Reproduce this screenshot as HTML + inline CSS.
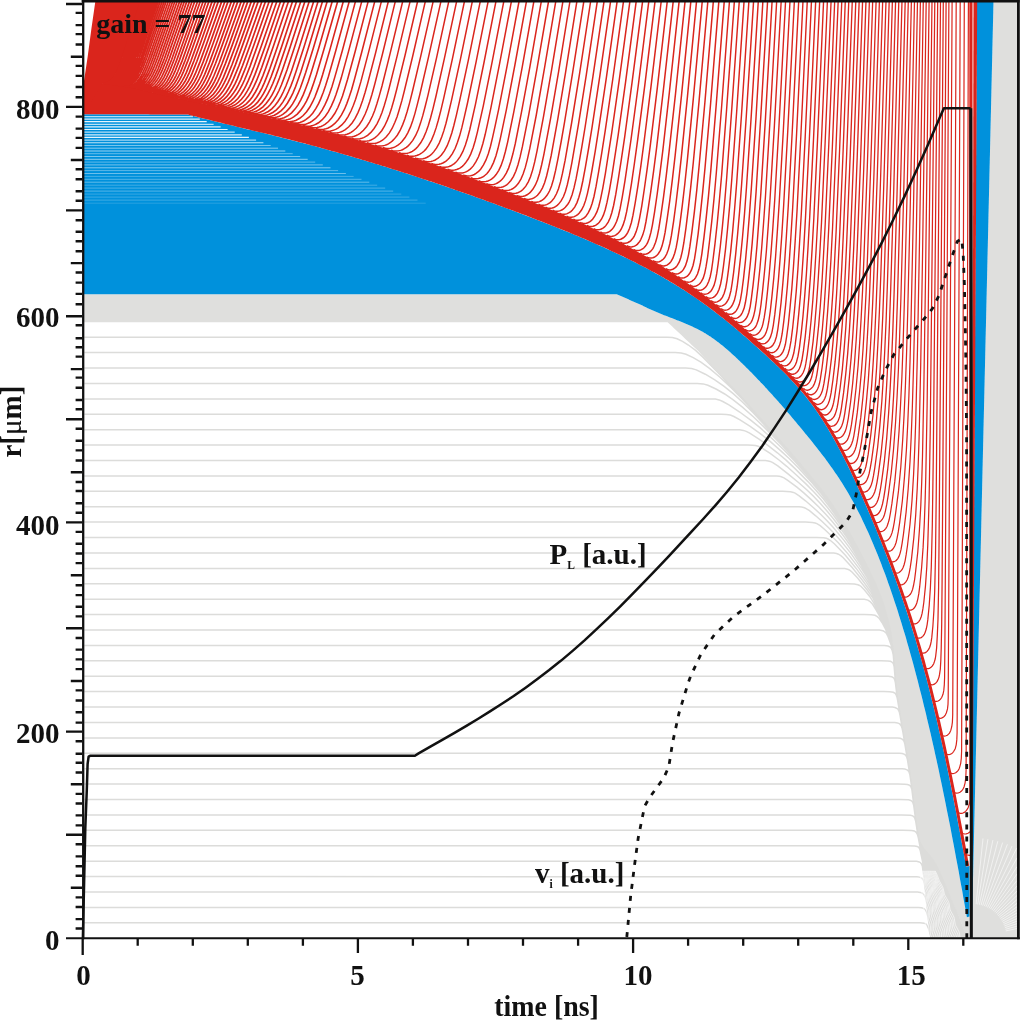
<!DOCTYPE html>
<html><head><meta charset="utf-8"><title>plot</title>
<style>html,body{margin:0;padding:0;background:#fff}svg{display:block}</style></head>
<body>
<svg width="1020" height="1022" viewBox="0 0 1020 1022" style="display:block">
<rect width="1020" height="1022" fill="#fff"/>
<polygon fill="#dfdfdd" points="84,294.2 616.7,294.2 616.7,294.2 617.9,294.7 619,295.2 620.2,295.7 621.4,296.3 622.6,296.8 623.7,297.3 624.9,297.8 626.1,298.3 627.2,298.8 628.4,299.3 629.6,299.9 630.8,300.4 631.9,300.9 633.1,301.4 634.3,301.9 635.4,302.4 636.6,303 637.8,303.5 639,304 640.1,304.6 641.3,305.1 642.5,305.6 643.6,306.2 644.8,306.7 646,307.3 647.1,307.9 648.3,308.5 649.5,309 650.7,309.5 651.8,310.1 653,310.6 654.2,311.1 655.3,311.6 656.5,312.1 657.7,312.6 658.9,313 660,313.5 661.2,314 662.4,314.5 663.5,314.9 664.7,315.4 665.9,315.8 667.1,316.3 668.2,316.7 669.4,317.2 670.6,317.7 671.7,318.1 672.9,318.6 674.1,319 675.3,319.5 676.4,319.9 677.6,320.4 678.8,320.8 679.9,321.3 681.1,321.8 682.3,322.2 683.5,322.7 684.6,323.2 685.8,323.7 687,324.2 688.1,324.7 689.3,325.2 690.5,325.7 691.7,326.3 692.8,326.8 694,327.4 695.2,327.9 696.3,328.5 697.5,329.1 698.7,329.7 699.8,330.3 701,330.9 702.2,331.6 703.4,332.3 704.5,332.9 705.7,333.6 706.9,334.4 708,335.1 709.2,335.9 710.4,336.6 711.6,337.4 712.7,338.2 713.9,339.1 715.1,339.9 716.2,340.8 717.4,341.7 718.6,342.5 719.8,343.5 720.9,344.4 722.1,345.3 723.3,346.3 724.4,347.3 725.6,348.3 726.8,349.3 728,350.3 729.1,351.3 730.3,352.3 731.5,353.4 732.6,354.5 733.8,355.5 735,356.6 736.2,357.7 737.3,358.8 738.5,360 739.7,361.1 740.8,362.2 742,363.3 743.2,364.5 744.3,365.6 745.5,366.8 746.7,367.9 747.9,369.1 749,370.3 750.2,371.4 751.4,372.6 752.5,373.8 753.7,375 754.9,376.2 756.1,377.4 757.2,378.7 758.4,379.9 759.6,381.1 760.7,382.4 761.9,383.6 763.1,384.8 764.3,386.1 765.4,387.4 766.6,388.6 767.8,389.9 768.9,391.2 770.1,392.5 771.3,393.8 772.5,395.1 773.6,396.4 774.8,397.7 776,399 777.1,400.3 778.3,401.6 779.5,402.9 780.7,404.3 781.8,405.6 783,407 784.2,408.3 785.3,409.7 786.5,411 787.7,412.4 788.9,413.8 790,415.1 791.2,416.5 792.4,417.9 793.5,419.3 794.7,420.7 795.9,422.1 797,423.5 798.2,424.9 799.4,426.3 800.6,427.7 801.7,429.1 802.9,430.5 804.1,431.9 805.2,433.4 806.4,434.8 807.6,436.2 808.8,437.7 809.9,439.1 811.1,440.6 812.3,442 813.4,443.5 814.6,445 815.8,446.4 817,447.9 818.1,449.4 819.3,450.9 820.5,452.5 821.6,454 822.8,455.5 824,457.1 825.2,458.6 826.3,460.2 827.5,461.8 828.7,463.4 829.8,465 831,466.7 832.2,468.3 833.4,470 834.5,471.7 835.7,473.4 836.9,475.1 838,476.8 839.2,478.6 840.4,480.4 841.6,482.2 842.7,484.1 843.9,486 845.1,487.9 846.2,489.8 847.4,491.8 848.6,493.8 849.7,495.8 850.9,497.9 852.1,500 853.3,502.1 854.4,504.3 855.6,506.5 856.8,508.7 857.9,511 859.1,513.3 860.3,515.6 861.5,518 862.6,520.4 863.8,522.9 865,525.4 866.1,527.9 867.3,530.5 868.5,533.1 869.7,535.8 870.8,538.4 872,541.2 873.2,543.9 874.3,546.7 875.5,549.6 876.7,552.4 877.9,555.3 879,558.3 880.2,561.3 881.4,564.3 882.5,567.4 883.7,570.5 884.9,573.6 886.1,576.8 887.2,580.1 888.4,583.4 889.6,586.7 890.7,590 891.9,593.5 893.1,596.9 894.2,600.4 895.4,604 896.6,607.6 897.8,611.2 898.9,614.9 900.1,618.7 901.3,622.5 902.4,626.3 903.6,630.2 904.8,634.1 906,638.1 907.1,642.2 908.3,646.3 909.5,650.4 910.6,654.6 911.8,658.8 913,663.1 914.2,667.5 915.3,671.8 916.5,676.3 917.7,680.8 918.8,685.3 920,689.9 921.2,694.5 922.4,699.2 923.5,703.9 924.7,708.7 925.9,713.6 927,718.5 928.2,723.4 929.4,728.4 930.6,733.5 931.7,738.6 932.9,743.8 934.1,749 935.2,754.3 936.4,759.6 937.6,765 938.8,770.5 939.9,776 941.1,781.5 942.3,787.2 943.4,792.8 944.6,798.6 945.8,804.4 946.9,810.2 948.1,816.1 949.3,822 950.5,828.1 951.6,834.1 952.8,840.2 954,846.4 955.1,852.6 956.3,858.9 957.5,865.2 958.7,871.5 959.8,877.9 961,884.4 962.2,890.8 963.3,897.4 964.5,903.9 965.7,910.5 966.9,917.2 969.5,916.5 969.5,938.2 967.1,938.2 966.3,936.1 965.5,934.1 964.7,932 963.9,930 963.1,927.9 962.3,925.8 961.6,923.8 960.8,921.7 960,919.7 959.2,917.6 958.3,915.5 957.3,913.5 956.4,911.4 955.5,909.4 954.6,907.3 953.6,905.2 952.7,903.2 951.8,901.1 950.9,899.1 950,897 949.1,894.9 948.3,892.9 947.4,890.8 946.6,888.8 945.8,886.7 944.9,884.6 944.1,882.6 943.2,880.5 942.4,878.5 941.5,876.4 940.6,874.3 939.7,872.3 938.7,870.2 937.7,868.2 936.7,866.1 935.6,864 934.5,862 933.1,859.9 931.5,857.9 929.7,855.8 927.9,853.7 926.1,851.7 924.3,849.6 922.6,847.6 921.2,845.5 920,843.4 919.1,841.4 918.6,839.3 918.3,837.3 917.9,835.2 917.5,833.1 917.2,831.1 916.9,829 916.6,826.9 916.3,824.9 916,822.8 915.7,820.8 915.5,818.7 915.2,816.6 915,814.6 914.7,812.5 914.5,810.5 914.2,808.4 914,806.3 913.8,804.3 913.5,802.2 913.3,800.2 913.1,798.1 912.8,796 912.6,794 912.3,791.9 912.1,789.9 911.8,787.8 911.6,785.7 911.3,783.7 911,781.6 910.7,779.6 910.4,777.5 910.1,775.4 909.8,773.4 909.5,771.3 909.1,769.3 908.8,767.2 908.5,765.1 908.2,763.1 907.8,761 907.5,759 907.2,756.9 906.8,754.8 906.5,752.8 906.1,750.7 905.8,748.7 905.4,746.6 905.1,744.5 904.7,742.5 904.4,740.4 904,738.4 903.7,736.3 903.3,734.2 902.9,732.2 902.6,730.1 902.2,728.1 901.9,726 901.5,723.9 901.2,721.9 900.8,719.8 900.5,717.8 900.1,715.7 899.8,713.6 899.4,711.6 899.1,709.5 898.8,707.5 898.4,705.4 898.1,703.3 897.8,701.3 897.4,699.2 897.1,697.2 896.8,695.1 896.6,693 896.3,691 896.1,688.9 895.9,686.9 895.7,684.8 895.5,682.7 895.3,680.7 895.2,678.6 895,676.6 894.8,674.5 894.7,672.4 894.6,670.4 894.4,668.3 894.3,666.3 894.1,664.2 894,662.1 893.9,660.1 893.7,658 893.5,656 893.4,653.9 893.2,651.8 893,649.8 892.8,647.7 892.6,645.7 892.4,643.6 892.1,641.5 891.8,639.5 891.5,637.4 891.2,635.4 890.9,633.3 890.5,631.2 890.1,629.2 889.7,627.1 889.3,625 888.8,623 888.3,620.9 887.7,618.9 887.2,616.8 886.6,614.7 886,612.7 885.4,610.6 884.8,608.6 884.2,606.5 883.6,604.4 882.9,602.4 882.2,600.3 881.5,598.3 880.7,596.2 879.9,594.1 879.1,592.1 878.2,590 877.4,588 876.5,585.9 875.5,583.8 874.6,581.8 873.7,579.7 872.7,577.7 871.7,575.6 870.7,573.5 869.7,571.5 868.7,569.4 867.6,567.4 866.6,565.3 865.5,563.2 864.5,561.2 863.4,559.1 862.3,557.1 861.3,555 860.2,552.9 859.1,550.9 858.1,548.8 857,546.8 855.9,544.7 854.8,542.6 853.7,540.6 852.6,538.5 851.5,536.5 850.4,534.4 849.2,532.3 848.1,530.3 846.9,528.2 845.7,526.2 844.5,524.1 843.3,522 842,520 840.8,517.9 839.5,515.9 838.2,513.8 836.9,511.7 835.6,509.7 834.3,507.6 832.9,505.6 831.5,503.5 830.1,501.4 828.7,499.4 827.2,497.3 825.7,495.3 824.2,493.2 822.6,491.1 821,489.1 819.4,487 817.7,485 816,482.9 814.3,480.8 812.6,478.8 810.9,476.7 809.2,474.7 807.5,472.6 805.8,470.5 804.1,468.5 802.4,466.4 800.6,464.4 798.9,462.3 797.1,460.2 795.3,458.2 793.5,456.1 791.7,454.1 789.9,452 788.1,449.9 786.3,447.9 784.4,445.8 782.6,443.8 780.8,441.7 778.9,439.6 777.1,437.6 775.3,435.5 773.5,433.5 771.7,431.4 769.9,429.3 768.2,427.3 766.4,425.2 764.6,423.1 762.8,421.1 761,419 759.2,417 757.4,414.9 755.6,412.8 753.8,410.8 752,408.7 750.1,406.7 748.3,404.6 746.4,402.5 744.6,400.5 742.7,398.4 740.8,396.4 738.9,394.3 737,392.2 735.1,390.2 733.2,388.1 731.3,386.1 729.3,384 727.4,381.9 725.4,379.9 723.4,377.8 721.4,375.8 719.4,373.7 717.4,371.6 715.5,369.6 713.5,367.5 711.6,365.5 709.7,363.4 707.7,361.3 705.8,359.3 703.9,357.2 702,355.2 700,353.1 698.3,351 696.1,349 693.9,346.9 691.7,344.9 689.5,342.8 687.3,340.7 685.1,338.7 682.9,336.6 680.8,334.6 678.6,332.5 676.4,330.4 674.2,328.4 672,326.3 669.8,324.3 667.6,322.2 84,322.2"/>
<path d="M84.3 922.8 L919.8 922.8 L924.3 923.3 L925.8 923.9 L926.8 924.9 L928.2 927.8 L930.3 934.8 L931 938.2M84.3 907.4 L918.5 907.4 L921.3 907.7 L923.7 908.4 L925.4 910 L926.6 912.2 L928.2 917.8 L929.3 926.6 L931.3 934.7 L931.8 938.2M84.3 892 L917.5 892.1 L920.3 892.4 L922.6 893.3 L924.3 895.1 L925.5 897.5 L926.4 901.2 L927.4 909.1 L929 916.8 L930 924.6 L932.2 933.9 L932.5 938.2M84.3 876.6 L916.9 876.7 L919.6 877.1 L921.8 878.2 L922.9 879.4 L924 881.8 L924.6 884.6 L925.4 891.5 L927 899.2 L928 907.1 L929.9 915.8 L930.9 923.6 L932.9 932.2 L933.3 938.2M84.3 861.2 L907.7 861.2 L916.6 861.3 L919.2 861.9 L920.5 862.7 L921.5 863.9 L922.4 866.3 L923.4 873.9 L925.1 881.7 L926 889.5 L927.8 898.2 L928.8 906.1 L930.5 913.8 L931.7 922.6 L933.7 931.2 L934.2 938.2M84.3 845.7 L905.8 845.7 L914.7 845.9 L917.2 846.5 L918.5 847.2 L919.5 848.4 L920.3 850.8 L922.9 863.2 L923.9 871 L925.7 879.7 L926.6 887.6 L928.4 896.3 L929.4 904.2 L931.3 912.8 L932.6 921.6 L934.4 929.3 L935.3 938.2M84.3 830.3 L902.9 830.3 L911.7 830.5 L914.3 831 L916.2 832.3 L917.4 834.4 L918.4 838 L921.3 853.7 L923.5 862.3 L924.6 870.2 L926.3 877.9 L927.4 886.7 L929 894.5 L930 902.3 L932 911 L933.2 919.8 L935.1 927.4 L936.1 935.5 L936.7 938.2M84.3 814.9 L901.7 814.9 L910.4 815.2 L912.8 815.9 L914 816.9 L914.8 818.2 L915.6 820.7 L918.5 838.3 L921.2 851 L923.8 860.6 L925 868.4 L926.9 876.1 L928 884.9 L929.8 893.6 L930.7 901.5 L932.7 910.1 L933.9 917.9 L935.8 925.6 L937.1 934.9 L938.1 938.2M84.3 799.5 L899.7 799.5 L908.5 799.8 L910.9 800.5 L912.1 801.4 L912.9 802.7 L913.7 805.2 L916.5 825.8 L918.2 836.7 L921.1 849.4 L924 858.8 L925.6 867.6 L927.6 875.2 L928.7 884.1 L930.4 891.8 L931.5 900.6 L933.3 908.3 L934.7 917.1 L936.6 924.7 L937.9 933.3 L939.5 938.2M84.3 784.1 L897.7 784.1 L904.6 784.2 L907.4 784.5 L908.9 785 L910.2 785.9 L911 787.1 L911.9 789.6 L915.9 822.2 L918.3 837 L920.9 847.7 L924.4 858 L926 865.8 L928 873.4 L929.3 882.2 L931.1 890.9 L932.2 899.7 L933.8 906.4 L935.2 915.2 L937.2 922.8 L938.6 931.6 L939.5 934.9 L940.7 938.2M84.3 768.7 L896.1 768.7 L902.1 768.8 L904.8 769 L907.1 769.8 L908.3 770.8 L909.1 772.2 L909.9 774.8 L911.8 787.6 L916 822.4 L918.1 836.2 L920.2 844.9 L924.6 857.1 L926.4 864.8 L928.4 871.5 L929.9 881.2 L931.6 888.9 L932.7 897.8 L934.5 905.4 L935.8 913.3 L937.8 920.9 L939.4 930.6 L941.8 938.2M84.3 753.3 L893.5 753.3 L899.5 753.3 L902.3 753.6 L904.6 754.4 L905.8 755.4 L906.6 756.8 L907.4 759.3 L911 781.9 L915.7 820.7 L918.2 836.5 L920.1 844.2 L924.7 856.3 L928.9 870.5 L930.3 879.3 L932.3 888 L933.4 896.8 L935.2 904.5 L936.3 911.3 L938.6 919.9 L940.2 929.6 L942.7 938.2M84.3 737.9 L890.7 737.9 L897.6 738 L900.3 738.3 L902.5 739.3 L903.5 740.5 L904.3 742 L905 744.6 L907.9 761.4 L910.8 780.1 L915.8 820.9 L918.2 836.7 L920.2 844.4 L924.7 855.5 L929.4 869.6 L930.9 878.3 L932.8 886 L933.9 894.8 L935.6 902.6 L936.7 909.4 L939.1 917.9 L940.5 926.7 L942.8 934.8 L943.4 938.2M84.3 722.5 L887.9 722.5 L894.8 722.6 L897.5 722.9 L899.7 723.9 L901.2 725.7 L902.1 728.2 L902.9 732 L910.4 777.4 L915.9 822.1 L918.5 837.9 L920.4 844.6 L928.3 863.9 L929.9 868.6 L931.2 876.4 L933.2 884 L934.3 892.9 L936.1 900.6 L937.4 908.4 L939.8 916.9 L941.3 925.7 L943.5 934 L944.1 938.2M84.3 707.1 L885.4 707.1 L892.3 707.1 L895 707.5 L897.2 708.5 L898.2 709.6 L899.3 711.9 L900.1 715.6 L906.5 753.1 L910 774.8 L912 789.6 L915.8 821.4 L918.3 837.2 L919.3 841.1 L920.6 844.9 L928.7 863.1 L930 866.8 L931.5 874.5 L933.8 883.1 L935 891.9 L936.7 899.6 L937.8 906.5 L940.3 915 L941.9 923.7 L944.1 932.2 L944.8 938.2M84.3 691.6 L883.8 691.6 L889.7 691.7 L893.3 692.3 L895.2 693.4 L896.1 694.7 L897 697.2 L897.6 700 L909.9 774 L912 788.9 L915.9 821.7 L918.4 837.5 L919.4 841.3 L920.7 845.1 L928.9 862.1 L930.3 865.8 L931.9 873.6 L934.3 882.1 L935.4 890 L937.1 897.7 L938.4 905.5 L941 914 L942.6 922.7 L944.9 931.2 L945.5 938.2M84.3 676.2 L882.4 676.2 L888.3 676.3 L891.8 676.8 L893.2 677.5 L894.2 678.6 L894.8 680 L895.4 682.7 L898 702.4 L906.9 755.7 L910.2 776.4 L912.1 790.3 L915.8 821.1 L918.3 836.9 L919.5 841.7 L920.9 845.4 L923.5 850.8 L928.7 860.5 L930.5 865 L932.1 871.8 L934.6 880.3 L935.8 888.1 L937.5 895.8 L939 904.6 L941.6 913 L943 920.8 L945.4 929.3 L946.5 938.2M84.3 660.8 L880.9 660.8 L887.8 660.9 L890.4 661.3 L891.9 662 L892.9 663 L893.6 664.3 L894.2 666.9 L895.8 685.8 L897.1 696.7 L910 774.7 L912 789.6 L916 822.4 L918.3 837.2 L919.6 842 L921.5 846.6 L928.3 858.8 L930 862.4 L932.5 870.9 L934.6 877.5 L936.3 887.2 L938.2 894.9 L939.4 902.7 L942 911.2 L943.7 919.9 L946 927.5 L947.7 938.2M84.3 645.4 L878.5 645.4 L884.4 645.5 L888 646 L890.2 647.1 L891.2 648.3 L892.3 650.8 L893.2 654.5 L893.9 660.5 L895.6 683.4 L897 696.3 L909.9 774.3 L912 789.1 L915.9 821.9 L918.2 836.7 L919.5 841.5 L921.4 846.1 L923.7 850.5 L928.4 858.2 L930.2 861.7 L934.8 875.8 L935.5 878.7 L936.6 885.5 L938.6 893.1 L940 901.9 L942.3 909.4 L944.2 918.1 L946.5 925.7 L947.9 934.1 L949.1 938.2M84.3 630 L872.5 630 L879.4 630.1 L883 630.8 L884.5 631.6 L885.8 632.7 L886.8 634.2 L888.1 636.7 L891.2 645.2 L893 652.9 L893.8 659.9 L895.6 683.8 L897 695.7 L910 774.7 L912 789.5 L916 822.3 L918.3 837.1 L919.6 841.9 L921.6 846.5 L924.1 850.8 L928.4 857.5 L930.2 861 L934.9 874.1 L935.7 876.9 L937.1 884.7 L939.1 892.3 L940.5 901.1 L942.9 908.6 L944.6 916.3 L947.2 924.8 L948.8 933.3 L950.4 938.2M84.3 614.6 L864.4 614.6 L871.3 614.7 L875 615.3 L877.3 616.6 L879.3 618.5 L882 622.5 L884.9 627.8 L887.3 633.2 L889.5 638.8 L891.2 644.6 L892.6 650.4 L893.6 657.3 L895.5 682.2 L897 696.2 L909.7 773.1 L912 789 L916 822.7 L917.5 832.6 L918.7 838.5 L920.1 843.2 L921.8 846.8 L928.3 856.9 L930.2 860.4 L935.2 873.3 L937.3 883 L939.4 890.6 L940.8 899.3 L943.2 906.8 L945.2 915.4 L947.7 923 L949.5 932.5 L951.7 938.2M84.3 599.2 L857.4 599.2 L864.3 599.3 L867.9 600.1 L870.1 601.5 L872.6 604.3 L876.2 610.2 L882.6 621.5 L885.3 626.9 L887.7 632.4 L889.6 638.1 L891.3 643.8 L892.5 649.7 L893.4 655.6 L895.5 682.5 L897.1 696.5 L909.9 774.4 L912 789.3 L915.9 822 L918.3 836.8 L919.6 841.6 L921.1 845.3 L923.1 848.7 L929.6 858.7 L931.7 863.2 L935.1 871.5 L936 874.4 L937.5 881.1 L939.7 888.7 L941.4 898.4 L943.8 905.9 L945.6 913.6 L948.1 921.1 L950.3 931.6 L952.8 938.2M84.3 583.8 L847.3 583.8 L854.3 583.9 L857.9 584.7 L859.6 585.5 L861.1 586.5 L864.5 590 L869.5 596.2 L873.8 602.9 L879.6 613.4 L884.9 624.2 L887.9 631.6 L890.3 639.2 L892.1 647 L893.3 654.9 L895.5 682.8 L897.1 696.7 L910 774.6 L912 789.5 L916 822.3 L918.3 837.1 L919.7 841.8 L921.2 845.5 L923.3 848.9 L929.9 858.8 L933 865.1 L935.3 870.6 L937.8 880.2 L940.1 887.8 L941.8 897.5 L944.2 905 L946.1 912.7 L948.7 920.1 L950.7 929.8 L953.6 938.2M84.3 568.4 L837.9 568.4 L844.8 568.6 L848.4 569.5 L850 570.4 L852.2 572.2 L857.6 578.1 L867 589.7 L872.8 597.9 L877.6 606.7 L884 620.2 L887.1 627.6 L889.5 635.2 L891.7 644 L893.1 652.9 L895.6 683.8 L897.2 697.7 L909.8 773.7 L911.9 788.6 L916 822.4 L918.4 837.2 L919.7 842 L921.3 845.6 L923.4 849 L930.2 858.9 L933 864.2 L935.3 869.7 L940.2 885.8 L942.3 896.5 L944.4 903.1 L946.3 910.8 L949.3 919.1 L951.1 927.8 L953.5 934.8 L954.3 938.2M84.3 553 L826.9 553 L833.8 553.1 L836.6 553.6 L838.4 554.2 L840.8 555.6 L843 557.5 L852.4 567.8 L862.4 580.3 L871.2 592.5 L875.3 599.3 L879.3 607.4 L885.2 621.2 L888.6 630.6 L890.8 639.3 L892.7 649.1 L893.7 658.1 L895.6 684 L897 695.9 L909.9 774 L911.9 788.8 L916 822.6 L918.4 837.4 L919.8 842.2 L921.5 845.7 L931 859.8 L933.4 864.2 L935.4 868.7 L940.2 883.9 L942.4 894.6 L944.5 901.2 L946.5 908.9 L949.8 918.1 L951.5 925.9 L954.1 934 L954.9 938.2M84.3 537.5 L816.7 537.5 L823.6 537.8 L826.4 538.3 L828.1 539 L830.5 540.5 L834.3 543.8 L839.9 549.4 L845.4 555.3 L856.2 568.4 L866.2 582.1 L872.8 592.2 L877.5 600.9 L882.7 612.9 L887.6 626 L890.5 636.6 L892.5 647.4 L893.5 656.4 L895.4 681.3 L896.9 695.2 L909.9 774.2 L912 789.1 L915.9 821.8 L918.2 836.7 L919.5 841.4 L921.1 845.1 L923.2 848.4 L931.3 859.9 L933.7 864.2 L935.7 868.8 L940.4 883 L942.4 891.7 L944.9 900.2 L946.6 907 L950.3 917.2 L952 924.9 L954.7 933.1 L955.5 938.2M84.3 522.1 L805.5 522.1 L812.4 522.4 L815.2 523 L816.9 523.6 L820.2 525.7 L824.7 529.5 L831.3 535.7 L838.3 542.8 L848.2 554.1 L859 568.4 L868.5 582.6 L872.7 589.4 L876 595.5 L881 606.5 L886.6 621.5 L889.9 633 L892.3 645.7 L893.5 655.7 L895.4 681.6 L896.9 695.5 L909.9 774.5 L912 789.3 L915.9 822.1 L918.3 836.9 L919.6 841.7 L921.3 845.3 L923.4 848.6 L929.3 856.7 L932.1 860.8 L934.1 864.3 L936 868.9 L940.6 882 L942.7 890.7 L945.1 898.3 L947 906 L950.5 915.2 L952.3 922.9 L955.3 932.2 L956.1 938.2M84.3 506.7 L793.9 506.7 L798.8 506.8 L801.7 507.1 L804.5 507.8 L806.2 508.6 L809.5 510.7 L815.7 515.8 L822.4 521.7 L828.9 528 L834.5 533.7 L840.5 540.4 L850.5 552.9 L856.3 561.1 L862.5 570.2 L867.8 578.7 L872.3 586.4 L875.7 592.6 L878.7 598.9 L881.4 605.4 L884.1 612.9 L887 621.4 L888.9 628.2 L890.5 635 L891.9 642.9 L893.3 653.8 L895.4 681.7 L896.9 695.6 L910 774.6 L912 789.5 L916 822.3 L918.3 837.1 L919.7 841.9 L921.4 845.4 L923.5 848.8 L931.9 860 L934.3 864.3 L936.3 868.9 L940.7 881.1 L947.3 905.1 L950.9 914.3 L952.9 921.9 L955.7 930.3 L957 938.2M84.3 491.3 L782.8 491.3 L790.6 491.7 L793.4 492.4 L795.1 493.1 L799.2 495.8 L805.5 500.8 L813.8 508 L821.1 514.8 L826.8 520.5 L832.9 527.1 L843.8 540.1 L849.2 547.4 L854.9 555.6 L861.4 565.7 L867.1 575.1 L872.1 583.8 L876.2 591.8 L879.1 598.1 L882.1 605.5 L885.7 616 L888.3 624.6 L890.2 632.4 L891.8 641.2 L893.3 653.1 L895.5 682.1 L897 696 L909.9 774 L911.9 788.8 L916 822.6 L918.4 837.4 L919.8 842.1 L922.1 846.5 L924.4 849.8 L931.1 858.5 L933.7 862.7 L935.8 867.2 L938.8 874.7 L941.1 881.3 L945.1 894.6 L947.4 903.3 L951 912.5 L953.1 920.1 L955.7 927.6 L958 938.2M84.3 475.9 L771.6 475.9 L776.6 476 L779.5 476.3 L781.3 476.8 L784 477.9 L788.1 480.6 L796.9 487.2 L803.8 492.9 L811.2 499.6 L819.1 507.3 L826 514.6 L832 521.3 L838.3 529 L844.3 537 L850.7 546 L856.6 555.3 L863.4 566.4 L869.3 576.8 L874.5 586.5 L878.3 594.7 L881.3 602.1 L884.6 611.5 L888.1 623 L890 630.8 L891.6 639.6 L893.2 652.5 L895.4 681.5 L896.9 695.4 L909.9 774.4 L912 789.2 L915.9 822 L917.4 831.9 L918.5 837.8 L919.6 841.6 L921.3 845.1 L924 849.3 L930.2 857.1 L933 861.2 L935.3 865.6 L938.9 873.9 L940.6 878.6 L945.1 892.9 L947.4 901.5 L951.1 910.7 L953.6 919.3 L956 925.8 L958.2 934.9 L959.2 938.2M84.3 460.5 L760.5 460.5 L765.4 460.6 L768.3 461 L770.2 461.4 L772.8 462.6 L777.8 465.8 L788 473.8 L798.8 482.7 L807 490 L813.5 496.3 L820.4 503.5 L827 511 L833.4 518.7 L840 527.5 L846.3 536.5 L852.3 545.7 L858.6 556 L866 569 L871.7 579.6 L876.5 589.4 L880.5 598.6 L883.8 608 L887.6 620.5 L889.8 629.2 L891.4 638.1 L893.2 652 L895.4 681.9 L897 695.8 L909.8 773.8 L911.9 788.6 L916 822.4 L917.4 832.3 L918.6 838.1 L919.8 841.9 L921.5 845.5 L923.7 848.8 L930.5 857.4 L932.8 860.6 L935.2 865 L938.5 872.3 L940.7 877.9 L945 891.1 L947.8 900.7 L951.1 909 L953.8 917.5 L956.2 924 L958.9 934.2 L960.5 938.2M84.3 445.1 L747.6 445.1 L752.6 445.2 L755.5 445.5 L758.3 446.3 L761.8 447.9 L770.2 453.4 L779 460 L786.7 466.3 L796.4 475 L805.9 483.9 L813.7 491.7 L820.4 499.1 L828.1 508.3 L834.8 517 L841.2 526 L847.8 536 L854.1 546.2 L862.5 561 L869.6 574.2 L875 585 L879.4 595 L883.2 605.3 L887 617.8 L889.5 627.5 L891.4 637.3 L893.1 651.2 L895.4 681.1 L896.9 695 L909.9 774 L912 788.9 L916 822.7 L918.4 837.4 L919.9 842.2 L921.6 845.7 L923.9 849 L932.5 860 L935 864.3 L938.4 871.5 L940.6 877.1 L944.9 889.4 L948.1 899.9 L951.4 908.2 L953.9 915.7 L956.7 923.2 L959.6 933.5 L961.6 938.2M84.3 429.7 L734.6 429.7 L739.6 429.8 L743.4 430.4 L746.2 431.4 L749.7 433.2 L759 439.1 L767.9 445.4 L777.4 452.8 L785.8 459.9 L795.3 468.9 L807.9 481.6 L816.1 490.4 L823.3 498.8 L830.6 508.3 L837.6 518 L844.2 528.1 L850.5 538.3 L857.9 551.3 L867.4 568.9 L873.3 580.5 L878.3 591.5 L882.2 601.7 L885.9 613.2 L889 624.8 L891.1 635.5 L893 650.4 L895.4 681.4 L896.9 695.3 L909.9 774.2 L912 789.1 L916 822.9 L918.5 837.7 L920 842.4 L921.8 845.9 L924 849.2 L930.3 856.9 L932.7 860.1 L935.2 864.4 L938.3 870.7 L940.5 876.3 L944.6 887.5 L948.3 898.9 L956.8 921.3 L959.8 931.7 L962.6 938.2M84.3 414.3 L721.5 414.3 L726.5 414.5 L730.3 415.1 L733.9 416.5 L740 419.9 L750.2 426.3 L759.9 433.3 L770.1 441.4 L780.6 450.6 L789.4 458.8 L798.5 468.1 L812 482.8 L821.2 493.5 L827.9 502.1 L834.9 511.9 L841.5 521.9 L848.3 533 L855.7 546.1 L866.1 565.5 L872.4 578 L877.4 588.9 L881.5 599.1 L885.2 610.5 L888.9 624 L891 634.8 L893 649.7 L895.4 681.6 L896.9 695.5 L909.8 773.5 L912 789.3 L916.1 823.1 L917.4 832 L918.5 837.9 L920 842.6 L921.9 846.1 L924.2 849.3 L930.5 857 L932.9 860.3 L935.4 864.5 L938.5 870.8 L944.3 885.7 L948.5 898 L956.8 919.4 L960 929.8 L963.3 938.2M84.3 398.9 L709.5 398.9 L715.4 399.1 L719.2 399.9 L722.8 401.5 L728.9 404.9 L739.7 412 L751 420.3 L760.3 427.9 L771.5 438 L783.7 449.8 L794.8 461.3 L808.8 476.9 L819.8 489.9 L826.6 498.6 L833 507.5 L840.1 518.4 L846.9 529.5 L854.2 542.6 L864.1 561.1 L871.3 575.4 L876.4 586.3 L880.9 597.4 L884.5 607.8 L888.5 622.2 L890.9 634 L893 649.9 L895.4 681.8 L897 695.7 L909.8 773.7 L912 789.5 L916 822.3 L917.4 832.2 L918.6 838 L920.1 842.7 L922 846.2 L924.3 849.4 L930 856.4 L933 860.4 L935.6 864.6 L938.3 870 L943.2 882 L948.6 897.1 L957.1 918.4 L960.4 928.8 L963.9 938.2M84.3 383.4 L697.3 383.5 L703.2 383.9 L707.9 385.2 L716 389 L724.7 394 L732.9 399.7 L742.4 407.1 L753.6 417 L764.4 427.4 L781.2 444.6 L794.8 459.3 L809.8 476.6 L821.3 490.5 L827.9 499.3 L834.2 508.3 L840.6 518.4 L847.3 529.6 L855.1 543.6 L864.8 562.2 L871.1 574.7 L876.2 585.6 L880.8 596.7 L884.6 608 L888.6 622.5 L891 634.2 L893 650.1 L895.5 682 L897 695.9 L909.9 773.9 L911.9 788.7 L916 822.5 L917.5 832.4 L918.6 838.2 L919.8 842 L921.6 845.5 L923.8 848.8 L930.2 856.5 L933.2 860.5 L935.7 864.8 L938.4 870.1 L943.1 881.2 L949 897.1 L957.3 917.5 L964.5 938.2M84.3 368 L685.7 368.1 L691.6 368.5 L696.3 369.9 L705.3 374.2 L714.8 379.8 L723.8 386.1 L733.2 393.6 L742.1 401.7 L753.4 413 L765 425.4 L794 457.2 L805.1 470.1 L821 489.4 L827 497.4 L833.3 506.5 L839.8 516.6 L846.4 527.7 L853.8 540.8 L862.1 556.8 L869.8 571.9 L875.4 583.7 L880.1 594.8 L884 606.1 L888.3 621.5 L890.8 633.3 L892.9 649.1 L895.5 682 L897 696 L909.9 774 L911.9 788.8 L916 822.6 L917.5 832.5 L918.6 838.4 L919.9 842.1 L921.6 845.7 L923.9 848.9 L930.3 856.6 L933.3 860.6 L935.9 864.9 L938.5 870.2 L942.5 879.4 L949.8 898.1 L957.8 917.5 L965.1 938.2M84.3 352.6 L675.3 352.6 L681.2 353 L686 354.2 L693.2 357.6 L700.9 362.2 L709.8 368.7 L720.5 377.7 L731.4 387.9 L742.6 399.4 L758.2 416.3 L794.6 457.5 L805 469.7 L820.2 488.2 L826.9 497 L832.6 505.2 L839.1 515.3 L845.8 526.4 L851.7 536.9 L858.3 549.2 L868.3 568.8 L874.4 581.4 L879.9 594.3 L883.9 605.6 L888.2 621 L890.9 633.7 L893 649.6 L895.4 681.5 L896.9 695.4 L909.8 773.3 L912 789.2 L916 822.9 L917.5 832.8 L918.7 838.7 L920 842.4 L921.8 845.9 L924.1 849.2 L932.9 860 L935.6 864.2 L938.3 869.5 L942.3 878.7 L950.9 900 L958 916.6 L965.8 938.2M84.3 337.2 L667.5 337.2 L672.4 337.5 L677.1 338.7 L682.5 341.3 L688.4 345 L695.6 350.4 L702.9 357.2 L726 380.8 L739.8 395.3 L755.2 412.4 L796.1 459 L806.4 471.3 L820.3 488.3 L826.4 496.2 L832.7 505.3 L839.2 515.4 L845.4 525.7 L857 546.7 L867 566.2 L873.2 578.8 L878.8 591.6 L883.3 603.8 L888 620.2 L890.8 632.9 L892.9 648.7 L895.4 681.6 L896.9 695.6 L909.8 773.5 L912 789.4 L916.1 823.1 L917.6 833 L918.8 838.9 L920.1 842.6 L921.9 846.1 L924.2 849.3 L933 860.2 L935.7 864.4 L938.4 869.7 L942.1 877.9 L950.4 898.3 L958.4 916.7 L966.5 938.2" fill="none" stroke="#dcdcda" stroke-width="1.5"/>
<path d="M920 870.8 L920.5 878 L921.8 883.8 L921.9 885.2 L921.6 891 L922.2 893.9 L923.6 898.2 L923.8 899.7 L923.3 905.4 L923.4 906.9 L923.7 908.3 L925.1 912.7 L925.3 914.1 L925.4 915.5 L924.9 919.9 L924.9 921.3 L925.1 922.8 L926.9 928.5 L927.1 930 L926.7 934.3 L926.8 937.2M920.9 870.8 L921.5 876.5 L922.8 882.3 L922.9 883.8 L922.8 889.5 L923 891 L924.5 895.3 L924.9 896.8 L925 898.2 L924.7 902.5 L924.8 905.4 L926.6 911.2 L926.9 912.7 L926.9 914.1 L926.5 918.4 L926.6 919.9 L926.8 921.3 L928.3 925.6 L928.7 927.1 L928.8 928.5 L928.5 934.3 L929.1 937.2M921.8 870.8 L922.4 875.1 L923.7 880.9 L923.9 882.3 L923.9 888.1 L924.2 889.5 L925.8 893.9 L926.1 895.3 L926.3 896.8 L926 902.5 L926.2 904 L927.7 908.3 L928.4 911.2 L928.4 912.7 L928.1 917 L928.2 918.4 L928.5 919.9 L930 924.2 L930.4 925.6 L930.5 927.1 L930.2 931.4 L930.3 932.9 L930.5 934.3 L931.5 937.2M922.8 870.8 L923.2 873.7 L924.6 879.4 L924.8 880.9 L925 886.7 L925.4 888.1 L927 892.4 L927.3 893.9 L927.5 895.3 L927.2 899.7 L927.3 901.1 L927.6 902.5 L929.6 908.3 L929.8 909.8 L929.6 915.5 L929.7 917 L930.1 918.4 L931.7 922.8 L932 924.2 L932.1 925.6 L931.9 930 L932 931.4 L932.3 932.9 L933.9 937.2M923.7 870.8 L925.4 878 L926.1 885.2 L926.4 886.7 L928.1 891 L928.5 892.4 L928.6 893.9 L928.4 898.2 L928.6 899.7 L928.9 901.1 L930.6 905.4 L931 906.9 L931.2 909.8 L931.1 914.1 L931.7 917 L933.3 921.3 L933.7 922.8 L933.8 924.2 L933.6 928.5 L933.7 930 L934.1 931.4 L935.8 935.8 L936.2 937.2M924.7 870.8 L926.1 876.5 L927.1 883.8 L927.5 885.2 L929.2 889.5 L929.5 891 L929.7 892.4 L929.6 896.8 L929.8 898.2 L930.2 899.7 L932 904 L932.4 905.4 L932.6 906.9 L932.5 912.7 L932.8 914.1 L934.5 918.4 L935.2 921.3 L935.2 927.1 L935.4 928.5 L935.8 930 L937.6 934.3 L938 935.8 L938.2 937.2M925.7 870.8 L926.8 875.1 L928 882.3 L930.2 888.1 L930.5 889.5 L930.7 891 L930.7 895.3 L930.9 896.8 L931.4 898.2 L933.3 902.5 L933.7 904 L933.9 905.4 L933.8 909.8 L933.9 911.2 L934.3 912.7 L936.5 918.4 L936.8 919.9 L936.7 924.2 L937 927.1 L937.5 928.5 L939.3 932.9 L939.7 934.3 L939.9 937.2M926.6 870.8 L927.8 875.1 L928.9 880.9 L931.1 886.7 L931.5 888.1 L931.8 893.9 L932.1 895.3 L934.5 901.1 L934.9 902.5 L935.1 904 L935.1 908.3 L935.3 909.8 L935.7 911.2 L937.5 915.5 L938 917 L938.2 918.4 L938.3 924.2 L938.6 925.6 L941 931.4 L941.4 932.9 L941.5 934.3 L941.5 937.2M927.6 870.8 L928.4 873.7 L929.7 879.4 L932 885.2 L932.3 886.7 L932.6 891 L933.2 893.9 L935.1 898.2 L936.1 901.1 L936.3 902.5 L936.4 906.9 L936.6 908.3 L937.1 909.8 L939 914.1 L939.4 915.5 L939.7 917 L939.7 921.3 L939.9 922.8 L940.8 925.6 L942.7 930 L943 931.4 L943.3 937.2M928.5 870.8 L930.5 878 L932.8 883.8 L933.1 885.2 L933.5 889.5 L933.8 891 L934.2 892.4 L936.3 896.8 L937.2 899.7 L937.6 905.4 L937.9 906.9 L938.4 908.3 L940.4 912.7 L940.8 914.1 L941.1 915.5 L941.2 919.9 L941.4 921.3 L941.8 922.8 L943.8 927.1 L944.6 930 L944.8 934.3 L945.3 937.2M929.5 870.8 L931.2 876.5 L933.5 882.3 L934.1 885.2 L934.7 889.5 L935.2 891 L937.9 896.8 L938.5 899.7 L938.8 904 L939.7 906.9 L941.8 911.2 L942.2 912.7 L942.4 914.1 L942.6 918.4 L942.8 919.9 L943.3 921.3 L945.3 925.6 L945.9 927.1 L946.2 928.5 L946.6 934.3 L947.5 937.2M930.4 870.8 L931.8 875.1 L934.2 880.9 L934.6 882.3 L935.6 888.1 L936.1 889.5 L938.4 893.9 L939 895.3 L939.3 896.8 L939.9 902.5 L941 905.4 L943.1 909.8 L943.5 911.2 L943.7 912.7 L943.9 917 L944.2 918.4 L944.8 919.9 L946.9 924.2 L947.4 925.6 L947.7 927.1 L947.9 931.4 L948.2 932.9 L948.6 934.3 L950 937.2M931.4 870.8 L932.4 873.7 L934.8 879.4 L935.2 880.9 L936.5 886.7 L937 888.1 L939.3 892.4 L939.9 893.9 L940.3 895.3 L940.7 899.7 L941 901.1 L941.5 902.5 L944.3 908.3 L944.7 909.8 L945.3 915.5 L945.6 917 L946.2 918.4 L948.4 922.8 L948.9 924.2 L949.2 925.6 L949.4 930 L949.7 931.4 L950.2 932.9 L952.4 937.2M932.3 870.8 L935.3 878 L937.3 885.2 L937.9 886.7 L940.3 891 L940.8 892.4 L941.2 893.9 L941.7 898.2 L942 899.7 L942.6 901.1 L944.9 905.4 L945.9 908.3 L946.3 912.7 L947 915.5 L949.8 921.3 L950.3 922.8 L950.6 924.2 L950.9 928.5 L951.3 930 L951.8 931.4 L954 935.8 L954.6 937.2M933.3 870.8 L935.8 876.5 L938 883.8 L941.1 889.5 L941.7 891 L942 892.4 L942.6 896.8 L943 898.2 L943.7 899.7 L946.1 904 L946.7 905.4 L947.1 906.9 L947.8 912.7 L949 915.5 L951.2 919.9 L951.7 921.3 L952.4 927.1 L952.8 928.5 L953.4 930 L955.7 934.3 L956.2 935.8 L956.6 937.2M934.3 870.8 L936.2 875.1 L938.7 882.3 L941.9 888.1 L942.5 889.5 L942.8 891 L943.5 895.3 L944 896.8 L944.7 898.2 L947.2 902.5 L947.8 904 L948.2 905.4 L948.7 909.8 L949 911.2 L949.6 912.7 L952.6 918.4 L953 919.9 L953.5 924.2 L954.2 927.1 L957.2 932.9 L957.8 934.3 L958.3 937.2M935.2 870.8 L937.2 875.1 L939.4 880.9 L942.5 886.7 L943.1 888.1 L944.4 893.9 L944.9 895.3 L948.2 901.1 L948.8 902.5 L949.2 904 L949.8 908.3 L950.2 909.8 L950.8 911.2 L953.2 915.5 L953.9 917 L954.3 918.4 L955.2 924.2 L955.7 925.6 L958.8 931.4 L959.3 932.9 L959.6 934.3 L959.9 937.2" fill="none" stroke="#fff" stroke-opacity="0.85" stroke-width="0.7"/>
<polygon fill="#dfdfdd" points="993.5,1 1018,1 1018,938 971,938 972,922"/>
<path d="M1005.8 930.9L1017 928.5M1005.4 929.3L1017 926.2M1004.9 927.6L1017 923.7M1004.3 926L1017 921.2M1003.7 924.4L1017 918.6M1003 922.9L1017 915.9M1002.2 921.4L1017 913M1001.3 919.9L1017 910M1000.3 918.5L1017 906.8M999.3 917.1L1017 903.3M998.2 915.8L1017 899.6M997.1 914.5L1017 895.5M995.9 913.3L1017 891M994.6 912.2L1017 886M993.3 911.1L1017 880.4M991.9 910.1L1017 874M990.5 909.1L1017 866.6M989 908.3L1017 857.9M987.5 907.5L1016.6 848.2M985.9 906.8L1012 846.1M984.4 906.1L1007.4 844.3M982.7 905.6L1002.6 842.6M981.1 905.1L997.8 841.2M979.4 904.7L992.9 840.1M977.7 904.4L987.9 839.2M976.1 904.2L983 838.5" fill="none" stroke="#fff" stroke-opacity="0.75" stroke-width="0.75"/>
<polygon fill="#0091dc" points="84,114.3 187.3,114.5 187.3,114.5 189.3,115 191.2,115.5 193.2,116 195.1,116.4 197.1,116.9 199,117.4 201,117.9 202.9,118.4 204.9,118.8 206.8,119.3 208.8,119.8 210.7,120.3 212.7,120.8 214.6,121.2 216.6,121.7 218.5,122.2 220.5,122.7 222.4,123.2 224.4,123.7 226.3,124.1 228.3,124.6 230.2,125.1 232.2,125.6 234.1,126.1 236.1,126.6 238.1,127 240,127.5 242,128 243.9,128.5 245.9,128.9 247.8,129.4 249.8,129.8 251.7,130.3 253.7,130.7 255.6,131.2 257.6,131.7 259.5,132.1 261.5,132.6 263.4,133.1 265.4,133.5 267.3,134 269.3,134.5 271.2,135 273.2,135.5 275.1,135.9 277.1,136.4 279,136.9 281,137.4 282.9,137.9 284.9,138.4 286.9,138.9 288.8,139.4 290.8,139.9 292.7,140.4 294.7,140.9 296.6,141.4 298.6,141.9 300.5,142.4 302.5,142.9 304.4,143.5 306.4,144 308.3,144.5 310.3,145 312.2,145.5 314.2,146.1 316.1,146.6 318.1,147.1 320,147.7 322,148.2 323.9,148.7 325.9,149.3 327.8,149.8 329.8,150.4 331.7,150.9 333.7,151.5 335.7,152 337.6,152.6 339.6,153.1 341.5,153.7 343.5,154.3 345.4,154.8 347.4,155.4 349.3,156 351.3,156.5 353.2,157.1 355.2,157.7 357.1,158.2 359.1,158.8 361,159.4 363,160 364.9,160.6 366.9,161.2 368.8,161.7 370.8,162.3 372.7,162.9 374.7,163.5 376.6,164.1 378.6,164.7 380.5,165.3 382.5,165.9 384.5,166.5 386.4,167.1 388.4,167.7 390.3,168.4 392.3,169 394.2,169.6 396.2,170.2 398.1,170.8 400.1,171.4 402,172.1 404,172.7 405.9,173.3 407.9,173.9 409.8,174.6 411.8,175.2 413.7,175.8 415.7,176.5 417.6,177.1 419.6,177.8 421.5,178.4 423.5,179.1 425.4,179.7 427.4,180.4 429.3,181 431.3,181.7 433.3,182.3 435.2,183 437.2,183.6 439.1,184.3 441.1,185 443,185.6 445,186.3 446.9,187 448.9,187.6 450.8,188.3 452.8,189 454.7,189.7 456.7,190.3 458.6,191 460.6,191.7 462.5,192.4 464.5,193.1 466.4,193.7 468.4,194.4 470.3,195.1 472.3,195.8 474.2,196.5 476.2,197.2 478.1,197.9 480.1,198.6 482.1,199.3 484,200 486,200.7 487.9,201.4 489.9,202.1 491.8,202.8 493.8,203.6 495.7,204.3 497.7,205 499.6,205.7 501.6,206.4 503.5,207.1 505.5,207.9 507.4,208.6 509.4,209.3 511.3,210 513.3,210.8 515.2,211.5 517.2,212.2 519.1,213 521.1,213.7 523,214.4 525,215.2 526.9,215.9 528.9,216.7 530.9,217.4 532.8,218.2 534.8,218.9 536.7,219.7 538.7,220.4 540.6,221.2 542.6,221.9 544.5,222.7 546.5,223.4 548.4,224.2 550.4,225 552.3,225.8 554.3,226.5 556.2,227.3 558.2,228.1 560.1,228.9 562.1,229.7 564,230.4 566,231.2 567.9,232 569.9,232.8 571.8,233.6 573.8,234.5 575.7,235.3 577.7,236.1 579.7,236.9 581.6,237.7 583.6,238.6 585.5,239.4 587.5,240.2 589.4,241.1 591.4,241.9 593.3,242.8 595.3,243.6 597.2,244.5 599.2,245.4 601.1,246.2 603.1,247.1 605,248 607,248.9 608.9,249.8 610.9,250.7 612.8,251.6 614.8,252.5 616.7,253.4 618.7,254.3 620.6,255.3 622.6,256.2 624.5,257.2 626.5,258.1 628.5,259.1 630.4,260 632.4,261 634.3,262 636.3,263 638.2,264 640.2,265 642.1,266 644.1,267 646,268.1 648,269.1 649.9,270.1 651.9,271.2 653.8,272.3 655.8,273.4 657.7,274.4 659.7,275.5 661.6,276.6 663.6,277.8 665.5,278.9 667.5,280 669.4,281.2 671.4,282.4 673.3,283.5 675.3,284.7 677.3,285.9 679.2,287.1 681.2,288.4 683.1,289.6 685.1,290.8 687,292.1 689,293.4 690.9,294.7 692.9,296 694.8,297.3 696.8,298.6 698.7,300 700.7,301.4 702.6,302.8 704.6,304.2 706.5,305.6 708.5,307 710.4,308.5 712.4,309.9 714.3,311.4 716.3,312.9 718.2,314.4 720.2,316 722.1,317.5 724.1,319.1 726.1,320.6 728,322.2 730,323.8 731.9,325.4 733.9,327.1 735.8,328.7 737.8,330.3 739.7,332 741.7,333.7 743.6,335.4 745.6,337.1 747.5,338.8 749.5,340.5 751.4,342.2 753.4,343.9 755.3,345.7 757.3,347.4 759.2,349.2 761.2,350.9 763.1,352.7 765.1,354.5 767,356.3 769,358.1 770.9,359.9 772.9,361.7 774.9,363.6 776.8,365.4 778.8,367.3 780.7,369.2 782.7,371.1 784.6,373.1 786.6,375.1 788.5,377.1 790.5,379.1 792.4,381.2 794.4,383.3 796.3,385.5 798.3,387.7 800.2,389.9 802.2,392.2 804.1,394.6 806.1,397 808,399.4 810,402 811.9,404.6 813.9,407.3 815.8,410 817.8,412.8 819.7,415.7 821.7,418.7 823.7,421.7 825.6,424.9 827.6,428.1 829.5,431.4 831.5,434.7 833.4,438.2 835.4,441.7 837.3,445.3 839.3,448.9 841.2,452.7 843.2,456.5 845.1,460.3 847.1,464.3 849,468.3 851,472.3 852.9,476.4 854.9,480.6 856.8,484.9 858.8,489.2 860.7,493.5 862.7,497.9 864.6,502.4 866.6,506.9 868.5,511.5 870.5,516.1 872.5,520.7 874.4,525.4 876.4,530.1 878.3,534.9 880.3,539.7 882.2,544.5 884.2,549.5 886.1,554.4 888.1,559.5 890,564.6 892,569.7 893.9,575 895.9,580.3 897.8,585.7 899.8,591.2 901.7,596.8 903.7,602.4 905.6,608.2 907.6,614.2 909.5,620.2 911.5,626.4 913.4,632.7 915.4,639.1 917.3,645.8 919.3,652.5 921.3,659.4 923.2,666.5 925.2,673.7 927.1,681.1 929.1,688.7 931,696.5 933,704.4 934.9,712.5 936.9,720.8 938.8,729.3 940.8,737.9 942.7,746.8 944.7,755.8 946.6,765 948.6,774.4 950.5,784 952.5,793.8 954.4,803.7 956.4,813.8 958.3,824 960.3,834.4 962.2,845 964.2,855.6 966.1,866.4 969.5,866 969.5,916.5 966.9,917.2 965.7,910.5 964.5,903.9 963.3,897.4 962.2,890.8 961,884.4 959.8,877.9 958.7,871.5 957.5,865.2 956.3,858.9 955.1,852.6 954,846.4 952.8,840.2 951.6,834.1 950.5,828.1 949.3,822 948.1,816.1 946.9,810.2 945.8,804.4 944.6,798.6 943.4,792.8 942.3,787.2 941.1,781.5 939.9,776 938.8,770.5 937.6,765 936.4,759.6 935.2,754.3 934.1,749 932.9,743.8 931.7,738.6 930.6,733.5 929.4,728.4 928.2,723.4 927,718.5 925.9,713.6 924.7,708.7 923.5,703.9 922.4,699.2 921.2,694.5 920,689.9 918.8,685.3 917.7,680.8 916.5,676.3 915.3,671.8 914.2,667.5 913,663.1 911.8,658.8 910.6,654.6 909.5,650.4 908.3,646.3 907.1,642.2 906,638.1 904.8,634.1 903.6,630.2 902.4,626.3 901.3,622.5 900.1,618.7 898.9,614.9 897.8,611.2 896.6,607.6 895.4,604 894.2,600.4 893.1,596.9 891.9,593.5 890.7,590 889.6,586.7 888.4,583.4 887.2,580.1 886.1,576.8 884.9,573.6 883.7,570.5 882.5,567.4 881.4,564.3 880.2,561.3 879,558.3 877.9,555.3 876.7,552.4 875.5,549.6 874.3,546.7 873.2,543.9 872,541.2 870.8,538.4 869.7,535.8 868.5,533.1 867.3,530.5 866.1,527.9 865,525.4 863.8,522.9 862.6,520.4 861.5,518 860.3,515.6 859.1,513.3 857.9,511 856.8,508.7 855.6,506.5 854.4,504.3 853.3,502.1 852.1,500 850.9,497.9 849.7,495.8 848.6,493.8 847.4,491.8 846.2,489.8 845.1,487.9 843.9,486 842.7,484.1 841.6,482.2 840.4,480.4 839.2,478.6 838,476.8 836.9,475.1 835.7,473.4 834.5,471.7 833.4,470 832.2,468.3 831,466.7 829.8,465 828.7,463.4 827.5,461.8 826.3,460.2 825.2,458.6 824,457.1 822.8,455.5 821.6,454 820.5,452.5 819.3,450.9 818.1,449.4 817,447.9 815.8,446.4 814.6,445 813.4,443.5 812.3,442 811.1,440.6 809.9,439.1 808.8,437.7 807.6,436.2 806.4,434.8 805.2,433.4 804.1,431.9 802.9,430.5 801.7,429.1 800.6,427.7 799.4,426.3 798.2,424.9 797,423.5 795.9,422.1 794.7,420.7 793.5,419.3 792.4,417.9 791.2,416.5 790,415.1 788.9,413.8 787.7,412.4 786.5,411 785.3,409.7 784.2,408.3 783,407 781.8,405.6 780.7,404.3 779.5,402.9 778.3,401.6 777.1,400.3 776,399 774.8,397.7 773.6,396.4 772.5,395.1 771.3,393.8 770.1,392.5 768.9,391.2 767.8,389.9 766.6,388.6 765.4,387.4 764.3,386.1 763.1,384.8 761.9,383.6 760.7,382.4 759.6,381.1 758.4,379.9 757.2,378.7 756.1,377.4 754.9,376.2 753.7,375 752.5,373.8 751.4,372.6 750.2,371.4 749,370.3 747.9,369.1 746.7,367.9 745.5,366.8 744.3,365.6 743.2,364.5 742,363.3 740.8,362.2 739.7,361.1 738.5,360 737.3,358.8 736.2,357.7 735,356.6 733.8,355.5 732.6,354.5 731.5,353.4 730.3,352.3 729.1,351.3 728,350.3 726.8,349.3 725.6,348.3 724.4,347.3 723.3,346.3 722.1,345.3 720.9,344.4 719.8,343.5 718.6,342.5 717.4,341.7 716.2,340.8 715.1,339.9 713.9,339.1 712.7,338.2 711.6,337.4 710.4,336.6 709.2,335.9 708,335.1 706.9,334.4 705.7,333.6 704.5,332.9 703.4,332.3 702.2,331.6 701,330.9 699.8,330.3 698.7,329.7 697.5,329.1 696.3,328.5 695.2,327.9 694,327.4 692.8,326.8 691.7,326.3 690.5,325.7 689.3,325.2 688.1,324.7 687,324.2 685.8,323.7 684.6,323.2 683.5,322.7 682.3,322.2 681.1,321.8 679.9,321.3 678.8,320.8 677.6,320.4 676.4,319.9 675.3,319.5 674.1,319 672.9,318.6 671.7,318.1 670.6,317.7 669.4,317.2 668.2,316.7 667.1,316.3 665.9,315.8 664.7,315.4 663.5,314.9 662.4,314.5 661.2,314 660,313.5 658.9,313 657.7,312.6 656.5,312.1 655.3,311.6 654.2,311.1 653,310.6 651.8,310.1 650.7,309.5 649.5,309 648.3,308.5 647.1,307.9 646,307.3 644.8,306.7 643.6,306.2 642.5,305.6 641.3,305.1 640.1,304.6 639,304 637.8,303.5 636.6,303 635.4,302.4 634.3,301.9 633.1,301.4 631.9,300.9 630.8,300.4 629.6,299.9 628.4,299.3 627.2,298.8 626.1,298.3 624.9,297.8 623.7,297.3 622.6,296.8 621.4,296.3 620.2,295.7 619,295.2 617.9,294.7 616.7,294.2 84,294.2"/>
<path d="M84 116.6 H192.9" stroke="#fff" stroke-opacity="0.71" stroke-width="1.34" fill="none"/>
<path d="M84 119.1 H199.8" stroke="#fff" stroke-opacity="0.88" stroke-width="1.32" fill="none"/>
<path d="M84 121.7 H206.7" stroke="#fff" stroke-opacity="0.90" stroke-width="1.29" fill="none"/>
<path d="M84 124.3 H213.6" stroke="#fff" stroke-opacity="0.72" stroke-width="1.26" fill="none"/>
<path d="M84 126.9 H220.6" stroke="#fff" stroke-opacity="0.88" stroke-width="1.24" fill="none"/>
<path d="M84 129.5 H227.6" stroke="#fff" stroke-opacity="0.90" stroke-width="1.21" fill="none"/>
<path d="M84 132.1 H234.7" stroke="#fff" stroke-opacity="0.72" stroke-width="1.18" fill="none"/>
<path d="M84 134.8 H241.8" stroke="#fff" stroke-opacity="0.84" stroke-width="1.15" fill="none"/>
<path d="M84 137.4 H248.9" stroke="#fff" stroke-opacity="0.90" stroke-width="1.12" fill="none"/>
<path d="M84 140.1 H256.1" stroke="#fff" stroke-opacity="0.64" stroke-width="1.08" fill="none"/>
<path d="M84 142.8 H263.4" stroke="#fff" stroke-opacity="0.74" stroke-width="1.05" fill="none"/>
<path d="M84 145.5 H270.7" stroke="#fff" stroke-opacity="0.47" stroke-width="1.01" fill="none"/>
<path d="M84 148.2 H278" stroke="#fff" stroke-opacity="0.55" stroke-width="0.97" fill="none"/>
<path d="M84 151 H285.3" stroke="#fff" stroke-opacity="0.63" stroke-width="0.95" fill="none"/>
<path d="M84 153.7 H292.7" stroke="#fff" stroke-opacity="0.42" stroke-width="0.94" fill="none"/>
<path d="M84 156.5 H300.2" stroke="#fff" stroke-opacity="0.52" stroke-width="0.94" fill="none"/>
<path d="M84 159.3 H307.7" stroke="#fff" stroke-opacity="0.60" stroke-width="0.93" fill="none"/>
<path d="M84 162.1 H315.2" stroke="#fff" stroke-opacity="0.41" stroke-width="0.93" fill="none"/>
<path d="M84 164.9 H322.8" stroke="#fff" stroke-opacity="0.50" stroke-width="0.92" fill="none"/>
<path d="M84 167.8 H330.5" stroke="#fff" stroke-opacity="0.57" stroke-width="0.92" fill="none"/>
<path d="M84 170.6 H338.1" stroke="#fff" stroke-opacity="0.40" stroke-width="0.91" fill="none"/>
<path d="M84 173.5 H345.9" stroke="#fff" stroke-opacity="0.47" stroke-width="0.91" fill="none"/>
<path d="M84 176.4 H353.6" stroke="#fff" stroke-opacity="0.31" stroke-width="0.90" fill="none"/>
<path d="M84 179.3 H361.5" stroke="#fff" stroke-opacity="0.37" stroke-width="0.90" fill="none"/>
<path d="M84 182.2 H369.3" stroke="#fff" stroke-opacity="0.43" stroke-width="0.89" fill="none"/>
<path d="M84 185.2 H377.2" stroke="#fff" stroke-opacity="0.29" stroke-width="0.88" fill="none"/>
<path d="M84 188.1 H385.2" stroke="#fff" stroke-opacity="0.34" stroke-width="0.88" fill="none"/>
<path d="M84 191.1 H393.2" stroke="#fff" stroke-opacity="0.38" stroke-width="0.87" fill="none"/>
<path d="M84 194.1 H401.3" stroke="#fff" stroke-opacity="0.25" stroke-width="0.87" fill="none"/>
<path d="M84 197.1 H409.4" stroke="#fff" stroke-opacity="0.28" stroke-width="0.86" fill="none"/>
<path d="M84 200.1 H417.5" stroke="#fff" stroke-opacity="0.29" stroke-width="0.86" fill="none"/>
<path d="M84 203.2 H425.7" stroke="#fff" stroke-opacity="0.19" stroke-width="0.85" fill="none"/>
<polygon fill="#0091dc" points="977,1 993.5,1 972,922 971.6,922"/>
<polygon fill="#da251c" points="84,82 87.6,82.1 91.2,82.2 94.8,82.4 98.4,82.7 102,83 105.6,83.4 109.2,83.9 112.8,84.3 116.4,84.8 120,85.4 123.6,86 127.2,86.5 130.8,87.1 134.4,87.8 138,88.6 141.6,89.6 145.3,90.5 148.9,91.3 152.5,92.2 156.1,93 159.7,93.8 163.3,94.6 166.9,95.5 170.5,96.3 174.1,97.1 177.7,97.9 181.3,98.7 184.9,99.5 188.5,100.3 192.1,101 195.7,101.8 199.3,102.6 202.9,103.4 206.5,104.2 210.1,104.9 213.7,105.7 217.3,106.5 220.9,107.2 224.5,108 228.1,108.8 231.7,109.6 235.3,110.3 238.9,111.1 242.5,111.9 246.1,112.7 249.7,113.4 253.3,114.2 256.9,115 260.5,115.8 264.2,116.6 267.8,117.4 271.4,118.2 275,119 278.6,119.8 282.2,120.7 285.8,121.5 289.4,122.3 293,123.2 296.6,124 300.2,124.9 303.8,125.8 307.4,126.7 311,127.6 314.6,128.5 318.2,129.4 321.8,130.3 325.4,131.2 329,132.2 332.6,133.1 336.2,134.1 339.8,135.1 343.4,136.1 347,137.1 350.6,138.1 354.2,139.1 357.8,140.1 361.4,141.2 365,142.2 368.6,143.3 372.2,144.4 375.8,145.5 379.4,146.6 383.1,147.7 386.7,148.8 390.3,150 393.9,151.1 397.5,152.3 401.1,153.4 404.7,154.6 408.3,155.8 411.9,157 415.5,158.2 419.1,159.4 422.7,160.6 426.3,161.8 429.9,163.1 433.5,164.3 437.1,165.6 440.7,166.9 444.3,168.1 447.9,169.4 451.5,170.7 455.1,172 458.7,173.3 462.3,174.7 465.9,176 469.5,177.3 473.1,178.7 476.7,180 480.3,181.4 483.9,182.8 487.5,184.1 491.1,185.5 494.7,186.9 498.3,188.3 501.9,189.7 505.6,191.1 509.2,192.5 512.8,194 516.4,195.4 520,196.8 523.6,198.3 527.2,199.7 530.8,201.2 534.4,202.7 538,204.2 541.6,205.6 545.2,207.1 548.8,208.7 552.4,210.2 556,211.7 559.6,213.3 563.2,214.8 566.8,216.4 570.4,218 574,219.6 577.6,221.3 581.2,222.9 584.8,224.6 588.4,226.3 592,228 595.6,229.7 599.2,231.5 602.8,233.3 606.4,235.1 610,236.9 613.6,238.7 617.2,240.6 620.8,242.5 624.5,244.4 628.1,246.4 631.7,248.4 635.3,250.4 638.9,252.4 642.5,254.5 646.1,256.6 649.7,258.7 653.3,260.9 656.9,263.1 660.5,265.3 664.1,267.6 667.7,269.9 671.3,272.2 674.9,274.6 678.5,277 682.1,279.5 685.7,282 689.3,284.5 692.9,287.1 696.5,289.7 700.1,292.3 703.7,295 707.3,297.8 710.9,300.6 714.5,303.4 718.1,306.3 721.7,309.2 725.3,312.2 728.9,315.2 732.5,318.2 736.1,321.4 739.7,324.5 743.4,327.7 747,331 750.6,334.3 754.2,337.7 757.8,341.1 761.4,344.6 765,348.1 768.6,351.7 772.2,355.4 775.8,359.1 779.4,362.9 783,366.6 786.6,370.3 790.2,374.1 793.8,377.8 797.4,381.5 801,385.3 804.4,390.2 805.5,391.5 806.6,392.9 807.8,394.3 808.9,395.7 810,397.1 811.1,398.5 812.3,400 813.4,401.5 814.5,403 815.6,404.5 816.7,406.1 817.9,407.7 819,409.3 820.1,410.9 821.2,412.5 822.3,414.2 823.5,415.9 824.6,417.6 825.7,419.4 826.8,421.1 827.9,422.9 829.1,424.8 830.2,426.6 831.3,428.5 832.4,430.4 833.5,432.3 834.6,434.2 835.8,436.2 836.9,438.2 838,440.2 839.1,442.3 840.2,444.3 841.3,446.4 842.4,448.5 843.6,450.7 844.7,452.8 845.8,455 846.9,457.2 848,459.4 849.1,461.6 850.2,463.9 851.4,466.2 852.5,468.5 853.6,470.8 854.7,473.2 855.8,475.5 856.9,477.9 858,480.3 859.1,482.7 860.3,485.1 861.4,487.6 862.5,490.1 863.6,492.6 864.7,495.1 865.8,497.6 866.9,500.1 868,502.7 869.1,505.2 870.3,507.8 871.4,510.4 872.5,513 873.6,515.7 874.7,518.3 875.8,521 876.9,523.6 878,526.3 879.1,529 880.3,531.7 881.4,534.4 882.5,537.2 883.6,539.9 884.7,542.7 885.8,545.5 886.9,548.3 888,551.1 889.1,553.9 890.3,556.8 891.4,559.7 892.5,562.6 893.6,565.5 894.7,568.4 895.8,571.4 896.9,574.4 898,577.4 899.1,580.5 900.3,583.6 901.4,586.7 902.5,589.8 903.6,593 904.7,596.2 905.8,599.4 906.9,602.6 908,605.9 909.1,609.3 910.3,612.7 911.4,616.1 912.5,619.5 913.6,623 914.7,626.6 915.8,630.2 916.9,633.8 918,637.5 919.1,641.2 920.3,645 921.4,648.8 922.5,652.7 923.6,656.7 924.7,660.6 925.8,664.7 926.9,668.8 928,672.9 929.1,677.1 930.3,681.3 931.4,685.6 932.5,690 933.6,694.4 934.7,698.9 935.8,703.4 936.9,708 938,712.6 939.1,717.3 940.3,722.1 941.4,726.9 942.5,731.8 943.6,736.7 944.7,741.7 945.8,746.8 946.9,751.9 948,757.1 949.1,762.4 950.2,767.7 951.4,773 952.5,778.4 953.6,783.9 954.7,789.4 955.8,795 956.9,800.7 958,806.4 959.1,812.1 960.2,817.9 961.3,823.8 962.4,829.6 963.6,835.6 964.7,841.6 965.8,847.6 966.9,853.6 968,859.7 969.1,865.8 966.1,866.4 963.9,854.2 961.7,842.2 959.5,830.3 957.3,818.6 955.1,807.1 952.9,795.8 950.7,784.7 948.5,773.8 946.2,763.2 944,752.8 941.8,742.7 939.6,732.8 937.4,723.1 935.2,713.7 933,704.5 930.8,695.5 928.6,686.8 926.4,678.3 924.1,670 921.9,661.9 919.7,654 917.5,646.3 915.3,638.8 913.1,631.5 910.9,624.4 908.7,617.5 906.5,610.7 904.2,604.1 902,597.6 899.8,591.3 897.6,585.1 895.4,579 893.2,573 891,567.1 888.8,561.3 886.6,555.6 884.3,549.9 882.1,544.3 879.9,538.8 877.7,533.4 875.5,528 873.3,522.7 871.1,517.4 868.9,512.2 866.7,507 864.4,501.9 862.2,496.9 860,491.9 857.8,487 855.6,482.2 853.4,477.4 851.2,472.7 849,468.1 846.8,463.6 844.5,459.2 842.3,454.8 840.1,450.6 837.9,446.4 835.7,442.3 833.5,438.3 831.3,434.4 829.1,430.6 826.9,426.9 824.6,423.3 822.4,419.8 820.2,416.4 818,413.1 815.8,409.9 813.6,406.8 811.4,403.8 809.2,400.9 807,398.1 804.8,395.3 802.5,392.6 800.3,390 798.1,387.5 795.9,385 793.7,382.6 791.5,380.2 789.3,377.9 787.1,375.6 784.9,373.3 782.6,371.1 780.4,368.9 778.2,366.8 776,364.7 773.8,362.6 771.6,360.5 769.4,358.4 767.2,356.4 765,354.3 762.7,352.3 760.5,350.3 758.3,348.3 756.1,346.4 753.9,344.4 751.7,342.4 749.5,340.5 747.3,338.5 745.1,336.6 742.8,334.7 740.6,332.8 738.4,330.9 736.2,329 734,327.2 731.8,325.3 729.6,323.5 727.4,321.7 725.2,319.9 722.9,318.1 720.7,316.4 718.5,314.7 716.3,312.9 714.1,311.2 711.9,309.6 709.7,307.9 707.5,306.3 705.3,304.7 703,303.1 700.8,301.5 698.6,299.9 696.4,298.4 694.2,296.9 692,295.4 689.8,293.9 687.6,292.5 685.4,291 683.2,289.6 680.9,288.2 678.7,286.8 676.5,285.5 674.3,284.1 672.1,282.8 669.9,281.5 667.7,280.1 665.5,278.9 663.3,277.6 661,276.3 658.8,275.1 656.6,273.8 654.4,272.6 652.2,271.4 650,270.2 647.8,269 645.6,267.8 643.4,266.7 641.1,265.5 638.9,264.4 636.7,263.2 634.5,262.1 632.3,261 630.1,259.9 627.9,258.8 625.7,257.7 623.5,256.6 621.2,255.6 619,254.5 616.8,253.5 614.6,252.4 612.4,251.4 610.2,250.4 608,249.3 605.8,248.3 603.6,247.3 601.3,246.3 599.1,245.3 596.9,244.4 594.7,243.4 592.5,242.4 590.3,241.5 588.1,240.5 585.9,239.5 583.7,238.6 581.5,237.7 579.2,236.7 577,235.8 574.8,234.9 572.6,234 570.4,233 568.2,232.1 566,231.2 563.8,230.3 561.6,229.4 559.3,228.6 557.1,227.7 554.9,226.8 552.7,225.9 550.5,225 548.3,224.2 546.1,223.3 543.9,222.4 541.7,221.6 539.4,220.7 537.2,219.9 535,219 532.8,218.2 530.6,217.3 528.4,216.5 526.2,215.6 524,214.8 521.8,214 519.5,213.1 517.3,212.3 515.1,211.5 512.9,210.6 510.7,209.8 508.5,209 506.3,208.2 504.1,207.4 501.9,206.5 499.6,205.7 497.4,204.9 495.2,204.1 493,203.3 490.8,202.5 488.6,201.7 486.4,200.9 484.2,200.1 482,199.3 479.7,198.5 477.5,197.7 475.3,196.9 473.1,196.1 470.9,195.3 468.7,194.5 466.5,193.8 464.3,193 462.1,192.2 459.9,191.4 457.6,190.7 455.4,189.9 453.2,189.1 451,188.4 448.8,187.6 446.6,186.8 444.4,186.1 442.2,185.3 440,184.6 437.7,183.8 435.5,183.1 433.3,182.3 431.1,181.6 428.9,180.9 426.7,180.1 424.5,179.4 422.3,178.7 420.1,177.9 417.8,177.2 415.6,176.5 413.4,175.7 411.2,175 409,174.3 406.8,173.6 404.6,172.9 402.4,172.2 400.2,171.5 397.9,170.8 395.7,170.1 393.5,169.4 391.3,168.7 389.1,168 386.9,167.3 384.7,166.6 382.5,165.9 380.3,165.2 378,164.5 375.8,163.9 373.6,163.2 371.4,162.5 369.2,161.9 367,161.2 364.8,160.5 362.6,159.9 360.4,159.2 358.2,158.5 355.9,157.9 353.7,157.2 351.5,156.6 349.3,156 347.1,155.3 344.9,154.7 342.7,154 340.5,153.4 338.3,152.8 336,152.1 333.8,151.5 331.6,150.9 329.4,150.3 327.2,149.7 325,149 322.8,148.4 320.6,147.8 318.4,147.2 316.1,146.6 313.9,146 311.7,145.4 309.5,144.8 307.3,144.2 305.1,143.6 302.9,143.1 300.7,142.5 298.5,141.9 296.2,141.3 294,140.7 291.8,140.2 289.6,139.6 287.4,139 285.2,138.5 283,137.9 280.8,137.3 278.6,136.8 276.3,136.2 274.1,135.7 271.9,135.1 269.7,134.6 267.5,134.1 265.3,133.5 263.1,133 260.9,132.5 258.7,131.9 256.4,131.4 254.2,130.9 252,130.4 249.8,129.8 247.6,129.3 245.4,128.8 243.2,128.3 241,127.8 238.8,127.2 236.6,126.7 234.3,126.1 232.1,125.6 229.9,125 227.7,124.5 225.5,123.9 223.3,123.4 221.1,122.8 218.9,122.3 216.7,121.7 214.4,121.2 212.2,120.7 210,120.1 207.8,119.6 205.6,119 203.4,118.5 201.2,117.9 199,117.4 196.8,116.8 194.5,116.3 192.3,115.7 190.1,115.2 187.9,114.6 185.7,114.5 183.5,114.5 181.3,114.5 179.1,114.5 176.9,114.4 174.6,114.4 172.4,114.4 170.2,114.4 168,114.4 165.8,114.4 163.6,114.4 161.4,114.4 159.2,114.4 157,114.4 154.7,114.4 152.5,114.4 150.3,114.4 148.1,114.3 145.9,114.3 143.7,114.3 141.5,114.3 139.3,114.3 137.1,114.3 134.9,114.3 132.6,114.3 130.4,114.3 128.2,114.3 126,114.3 123.8,114.3 121.6,114.3 119.4,114.3 117.2,114.3 115,114.3 112.7,114.3 110.5,114.3 108.3,114.3 106.1,114.3 103.9,114.3 101.7,114.3 99.5,114.3 97.3,114.3 95.1,114.3 92.8,114.3 90.6,114.3 88.4,114.3 86.2,114.3 84,114.3"/>
<polygon fill="#da251c" points="973.5,1 977.2,1 972.8,800 972,800"/>
<polygon fill="#da251c" points="84,81 87.7,56.4 91.3,29.4 95.4,1 141,0.6 122.6,57.2 119.6,65.7 117.1,71.7 113.8,77.3 110.4,80.9 108.2,82.2 106.4,82.9 102.4,83.1 84,114"/>
<path d="M102.4 83.1 L104.4 83.2 L106.4 82.9 L108.2 82.2 L110.4 80.9 L112.2 79.2 L113.8 77.3 L115.5 74.8 L117.1 71.7 L119.6 65.7 L122.6 57.2 L141 0.6M103.7 83.2 L106.2 83.3 L108.1 82.9 L110 82.1 L112.1 80.8 L113.9 79.1 L115.5 77.1 L117.1 74.6 L118.7 71.5 L121.2 65.5 L124.2 57 L142.6 1M104.9 83.3 L107.3 83.4 L109.3 83.1 L111.2 82.3 L113.3 81 L115.1 79.3 L116.7 77.4 L118.3 74.9 L120 71.8 L122.5 65.8 L125.5 57.3 L144.3 0.8M106.1 83.5 L108.6 83.6 L110.5 83.2 L112.4 82.5 L114.5 81.2 L116.4 79.5 L118 77.6 L119.7 75.1 L121.3 72 L123.9 66.1 L127.1 57.1 L145.9 0.7M107.4 83.6 L109.9 83.7 L111.8 83.4 L113.7 82.7 L115.8 81.4 L117.7 79.8 L119.6 77.5 L121.3 75 L122.9 71.9 L125.5 65.9 L128.7 57 L147.6 0.5M108.8 83.8 L111.3 83.9 L113.3 83.6 L115.2 82.9 L117.3 81.7 L119.2 80 L121.2 77.8 L122.8 75.3 L124.5 72.2 L127.1 66.2 L130.3 57.3 L149.3 0.9M110.2 84 L112.7 84.1 L114.7 83.8 L117 83 L119.1 81.6 L121 80 L122.9 77.7 L124.6 75.1 L126.2 72.1 L128.8 66.1 L132.1 57.2 L151.1 0.8M111.7 84.2 L114.1 84.3 L116.1 84 L118.5 83.2 L120.6 81.9 L122.5 80.2 L124.4 78 L126.1 75.5 L127.7 72.4 L130.5 66 L133.8 57 L152.8 0.7M113.1 84.4 L115.6 84.5 L117.6 84.3 L119.9 83.4 L122.1 82.2 L124 80.5 L125.9 78.3 L127.9 75.3 L129.5 72.3 L132.3 65.8 L135.6 56.9 L154.7 0.6M114.8 84.6 L117.3 84.8 L119.2 84.5 L121.6 83.7 L123.8 82.5 L125.7 80.9 L127.7 78.6 L129.6 75.7 L131.3 72.6 L134.1 66.2 L137.4 57.3 L156.5 1M116.3 84.8 L118.8 85 L120.8 84.8 L123.1 84 L125.3 82.7 L127.2 81.2 L129.2 78.9 L131.2 76.1 L132.9 73 L135.8 66.6 L139.3 57.2 L158.4 0.9M117.9 85.1 L120.4 85.3 L122.8 84.9 L125.2 84.1 L127.3 82.8 L129.2 81.1 L131.2 78.9 L133.2 76 L134.8 72.9 L137.7 66.5 L141.2 57.2 L160.4 0.8M119.5 85.3 L122 85.5 L124.5 85.2 L126.8 84.3 L128.9 83.1 L130.9 81.5 L132.9 79.2 L134.9 76.4 L136.6 73.3 L139.4 66.9 L142.9 57.6 L162.4 0.8M121.1 85.6 L123.6 85.8 L126.1 85.5 L128.5 84.6 L130.6 83.4 L132.9 81.5 L134.9 79.2 L136.8 76.3 L138.5 73.2 L141.4 66.9 L145.1 57 L164.4 0.7M122.8 85.8 L125.3 86.1 L127.8 85.8 L130.2 85 L132.3 83.7 L134.6 81.8 L136.6 79.6 L138.6 76.7 L140.3 73.6 L143.2 67.3 L146.9 57.5 L166.4 0.7" fill="none" stroke="#da251c" stroke-width="1.80"/>
<path d="M124.6 86.1 L127.1 86.3 L129.5 86.1 L131.9 85.3 L134.5 83.8 L136.8 81.8 L138.7 79.6 L140.7 76.7 L142.4 73.6 L145.3 67.2 L149 57.4 L168.5 0.7M126.4 86.4 L128.8 86.6 L131.3 86.4 L133.7 85.6 L136.3 84.1 L138.6 82.2 L140.6 80 L142.6 77.1 L144.3 74 L147.4 67.2 L151.1 57.4 L170.7 0.7M128.2 86.7 L130.7 86.9 L133.1 86.7 L135.5 85.9 L138.1 84.5 L140.5 82.6 L142.5 80.4 L144.5 77.5 L146.5 74 L149.6 67.2 L153.3 57.4 L172.9 0.7M130 87 L132.5 87.3 L135 87 L137.4 86.3 L140 84.9 L142.4 83 L144.4 80.8 L146.4 77.9 L148.4 74.5 L151.6 67.7 L155.5 57.4 L175.1 0.7M132 87.3 L134.4 87.6 L136.9 87.3 L139.3 86.6 L142 85.2 L144.3 83.4 L146.7 80.8 L148.7 77.9 L150.7 74.5 L153.8 67.7 L157.8 57.4 L177.4 0.7M133.8 87.6 L136.8 88 L139.3 87.7 L141.7 86.9 L144.3 85.5 L146.6 83.6 L148.7 81.4 L150.7 78.6 L152.7 75.1 L155.9 68.3 L159.9 58.1 L179.8 0.9M135.5 88 L138.5 88.4 L141 88.2 L143.4 87.5 L146.1 86.2 L148.4 84.3 L150.8 81.8 L152.9 78.9 L154.9 75.5 L158.3 68.3 L162.2 58 L182.2 0.9M137.4 88.4 L140.3 88.9 L142.8 88.8 L145.2 88.2 L147.9 86.8 L150.3 85 L152.7 82.5 L154.8 79.7 L157.1 75.9 L160.5 68.6 L164.5 58.4 L184.6 0.8M139.3 88.9 L142.2 89.5 L144.7 89.4 L147.1 88.8 L149.8 87.5 L152.3 85.7 L154.7 83.3 L157.1 80.1 L159.2 76.6 L162.6 69.4 L166.8 58.7 L187.1 0.6M141.4 89.5 L144.4 90 L146.9 89.9 L149.8 89.2 L152.4 87.9 L154.8 86.1 L157.3 83.5 L159.6 80.3 L161.7 76.9 L165.1 69.7 L169.3 58.9 L189.7 0.9M143.7 90.1 L146.6 90.6 L149.1 90.4 L152 89.7 L154.7 88.3 L157.1 86.5 L159.6 84 L161.9 80.8 L164 77.4 L167.4 70.2 L171.7 59.5 L192.2 1M145.9 90.6 L148.8 91.1 L151.3 91 L154.2 90.2 L156.9 88.9 L159.3 87.1 L161.8 84.6 L164.2 81.4 L166.5 77.6 L168.3 74 L170.1 69.9 L174.3 59.2 L194.9 0.7M148.2 91.2 L151.2 91.6 L153.6 91.5 L156.5 90.8 L159.2 89.5 L162 87.4 L164.5 84.9 L166.9 81.7 L168.9 78.2 L170.8 74.7 L172.6 70.6 L176.8 59.9 L182.9 43 L197.7 1M150.4 91.7 L153.4 92.1 L156.4 92 L159.3 91.1 L161.9 89.8 L164.7 87.6 L167.1 85.1 L169.5 81.9 L171.5 78.5 L173.4 74.9 L175.2 70.8 L179.6 59.6 L200.5 0.7M152.9 92.3 L155.9 92.7 L158.8 92.6 L161.7 91.8 L164.4 90.4 L167.2 88.3 L169.6 85.8 L172 82.6 L174.1 79.2 L176 75.6 L177.8 71.5 L182.3 60.4 L188.5 43 L203.3 1M155.3 92.8 L158.2 93.3 L161.2 93.1 L164.1 92.3 L166.8 91 L169.6 88.9 L172.1 86.4 L174.5 83.3 L176.8 79.4 L178.7 75.9 L180.6 71.8 L185.2 60.2 L191.5 42.8 L206.2 0.8M157.7 93.4 L160.7 93.8 L163.7 93.7 L166.6 92.9 L169.7 91.3 L172.5 89.2 L174.9 86.7 L177.3 83.5 L179.6 79.7 L181.5 76.1 L183.5 71.6 L188 60.4 L194.4 42.5 L209.2 0.6M160.4 94 L163.4 94.5 L166.3 94.3 L169.2 93.6 L172.4 92 L175.2 89.9 L177.6 87.4 L180.1 84.2 L182.4 80.4 L184.3 76.9 L186.4 72.3 L191 60.7 L197.5 42.9 L212.3 0.9M163 94.6 L165.9 95 L168.9 94.9 L171.8 94.2 L175 92.6 L177.8 90.6 L180.3 88.1 L182.7 84.9 L185.4 80.7 L187.2 77.2 L189.3 72.6 L193.9 61 L200.4 43.2 L215.4 0.7M165.6 95.2 L169.1 95.7 L172.1 95.4 L174.9 94.6 L178.1 93 L180.8 90.9 L183.3 88.4 L185.7 85.3 L188.4 81 L190.2 77.5 L192.3 72.9 L196.9 61.3 L203.6 43 L218.6 0.6M168.4 95.8 L171.9 96.3 L174.9 96.1 L177.8 95.3 L180.9 93.7 L183.7 91.6 L186.2 89.2 L188.6 86 L191.3 81.8 L193.2 78.2 L195.3 73.7 L200.1 61.6 L206.8 43.3 L221.9 0.9" fill="none" stroke="#da251c" stroke-width="1.75"/>
<path d="M171.1 96.4 L174.6 96.9 L177.6 96.7 L180.5 95.9 L183.6 94.4 L186.4 92.3 L189.2 89.5 L191.7 86.3 L194.3 82.1 L196.2 78.5 L198.3 74 L203.2 61.9 L209.9 43.6 L225.1 0.8M173.8 97 L177.3 97.5 L180.3 97.3 L183.2 96.6 L186.3 95 L189.1 93 L192 90.2 L194.5 87 L197.1 82.8 L199.2 78.8 L201.3 74.3 L206.2 62.2 L213.1 43.5 L228.3 0.6M176.7 97.7 L180.2 98.2 L183.2 98 L186.5 97 L189.6 95.5 L192.4 93.4 L195.3 90.5 L197.7 87.4 L200.4 83.1 L202.5 79.2 L204.6 74.6 L209.4 62.6 L216.3 43.8 L231.6 0.9M179.4 98.3 L182.9 98.8 L185.9 98.6 L189.3 97.7 L192.4 96.1 L195.2 94 L198 91.2 L200.8 87.7 L203.4 83.4 L205.5 79.4 L207.6 74.9 L212.7 62.4 L219.6 43.6 L234.8 0.8M182.2 98.9 L185.7 99.4 L188.6 99.2 L192 98.3 L195.2 96.8 L198 94.7 L200.8 91.9 L203.6 88.4 L206.3 84.2 L208.4 80.2 L210.5 75.7 L215.6 63.2 L222.7 43.9 L238.1 0.6M185.1 99.5 L188.6 100 L191.6 99.9 L195 99 L198.1 97.5 L201.3 95.1 L204.2 92.3 L206.9 88.7 L209.6 84.5 L211.7 80.5 L214 75.5 L219.1 63 L226.1 43.8 L241.4 0.9M187.9 100.1 L191.4 100.6 L194.9 100.4 L198.2 99.4 L201.4 97.9 L204.2 95.8 L207 93 L209.8 89.4 L212.5 85.2 L214.6 81.3 L216.9 76.3 L222 63.8 L229.3 44.1 L244.7 0.7M190.8 100.8 L194.3 101.3 L197.7 101 L201.1 100.1 L204.2 98.5 L207.4 96.1 L210.3 93.3 L213 89.8 L215.7 85.5 L217.8 81.6 L220.1 76.6 L225.4 63.6 L232.7 43.9 L248.1 0.6M193.9 101.4 L197.3 101.9 L200.8 101.7 L204.2 100.8 L207.3 99.2 L210.5 96.9 L213.4 94.1 L216.2 90.5 L218.9 86.3 L221 82.4 L223.4 77.4 L228.6 64.4 L235.9 44.7 L251.5 0.9M196.9 102.1 L200.3 102.6 L203.8 102.4 L207.2 101.5 L210.3 99.9 L213.6 97.6 L216.4 94.8 L219.2 91.3 L222.2 86.6 L224.3 82.7 L226.7 77.7 L232 64.8 L239.4 44.6 L255 0.8M200 102.7 L203.4 103.2 L206.9 103.1 L210.3 102.1 L213.9 100.4 L217.1 98 L219.9 95.2 L222.7 91.6 L225.6 87 L228 82.6 L230.3 77.6 L235.5 64.6 L242.9 44.4 L258.5 0.6M203.3 103.5 L206.8 104 L210.3 103.8 L213.6 102.9 L217.2 101.1 L220.4 98.8 L223.3 96 L226.1 92.5 L229 87.8 L231.4 83.4 L233.7 78.4 L239 65.5 L246.4 45.3 L262.1 1M206.6 104.2 L210 104.7 L213.5 104.5 L216.9 103.6 L220.5 101.9 L223.7 99.5 L226.9 96.4 L229.7 92.8 L232.6 88.2 L235 83.8 L237.3 78.8 L242.7 65.3 L250.3 44.7 L265.7 0.8" fill="none" stroke="#da251c" stroke-width="1.70"/>
<path d="M209.9 104.9 L213.4 105.4 L216.9 105.2 L220.3 104.4 L223.9 102.6 L227.1 100.3 L230.3 97.2 L233.1 93.6 L236.1 89 L238.4 84.6 L240.8 79.6 L246.2 66.2 L253.7 45.5 L269.4 0.7M213.4 105.6 L217.3 106.2 L220.8 105.9 L224.2 104.9 L227.8 103.2 L231 100.8 L234.1 97.6 L236.9 94.1 L239.8 89.4 L242.2 85 L244.5 80 L247.2 73.5 L250.1 66.1 L257.7 44.9 L273.2 0.5M217 106.4 L221 106.9 L224.5 106.7 L227.9 105.8 L231.4 104 L234.7 101.6 L237.9 98.5 L240.9 94.5 L243.8 89.8 L246.1 85.4 L248.4 80.4 L251.1 74 L254 66.5 L261.6 45.3 L277 0.9M220.6 107.2 L224.6 107.7 L228.1 107.5 L231.5 106.5 L235.1 104.8 L238.3 102.4 L241.5 99.3 L244.6 95.4 L247.5 90.7 L249.8 86.3 L252.3 80.8 L255 74.4 L257.8 66.9 L265.4 45.7 L280.8 0.8M224.3 108 L228.3 108.5 L231.8 108.3 L233.7 107.8 L235.6 107.2 L239.2 105.4 L242.4 103 L245.5 99.8 L248.6 95.8 L251.5 91.1 L253.8 86.7 L256.3 81.2 L258.9 74.8 L261.8 67.3 L269.4 45.6 L284.7 0.6M228.2 108.8 L232.2 109.3 L235.6 109.1 L237.6 108.7 L239.5 108 L243.1 106.2 L246.3 103.8 L249.4 100.7 L252.5 96.7 L255.4 92 L257.7 87.6 L260.2 82.1 L262.9 75.7 L265.7 68.2 L273.3 46.5 L288.6 1M232.1 109.6 L236.1 110.2 L239.6 110 L241.5 109.5 L243.4 108.9 L247 107.1 L250.6 104.4 L253.7 101.2 L256.7 97.2 L259.6 92.5 L261.9 88.1 L264.4 82.6 L267 76.1 L270 68.2 L277.7 46 L292.7 0.9M236 110.5 L240 111 L243.5 110.8 L245.4 110.4 L247.3 109.8 L250.9 108 L254.5 105.3 L257.7 102.1 L260.7 98.1 L263.6 93.4 L265.9 89 L268.3 83.5 L271 77 L273.9 69.1 L281.6 46.8 L296.8 0.8M240 111.3 L244 111.9 L246 111.8 L248 111.6 L249.9 111.1 L251.8 110.4 L255.3 108.6 L258.9 105.9 L262 102.6 L265 98.6 L267.8 93.9 L270.3 89 L272.8 83.5 L275.4 77 L278.3 69 L286 46.3 L301 0.7M244.1 112.2 L248.1 112.8 L250.1 112.7 L252.1 112.5 L254 112 L255.9 111.4 L259.4 109.5 L263 106.8 L266.1 103.5 L269.1 99.6 L272 94.9 L274.5 90 L276.9 84.5 L279.5 78 L282.4 70 L290.1 47.2 L305.2 0.6" fill="none" stroke="#da251c" stroke-width="1.65"/>
<path d="M248.4 113.1 L252.3 113.7 L254.3 113.7 L256.3 113.4 L258.3 113 L260.2 112.3 L263.7 110.5 L267.3 107.7 L270.4 104.5 L273.4 100.5 L276.5 95.4 L279 90.5 L281.4 85 L283.9 78.4 L287 70 L294.7 46.7 L309.5 0.5M252.9 114.1 L256.9 114.7 L258.9 114.7 L260.9 114.4 L262.8 114 L264.7 113.3 L268.3 111.5 L271.8 108.8 L275 105.5 L278 101.5 L281.1 96.4 L283.5 91.5 L285.9 86 L288.4 79.5 L291.5 71 L299.1 47.7 L313.8 1M257.5 115.1 L261.4 115.7 L263.4 115.7 L265.4 115.4 L267.3 115 L269.2 114.3 L272.8 112.5 L276.4 109.8 L279.8 106.2 L282.8 102.1 L285.8 97 L288.2 92 L290.8 86.1 L293.3 79.5 L296.2 71 L303.9 47.2 L318.2 0.9M262.1 116.1 L266 116.7 L268 116.7 L270 116.5 L272 116 L273.9 115.4 L277.4 113.5 L281 110.8 L284.5 107.2 L287.4 103.2 L290.4 98 L292.9 93.1 L295.4 87.1 L297.8 80.5 L300.8 72 L308.3 48.2 L322.7 0.8M267 117.2 L271 117.8 L273 117.8 L274.9 117.6 L276.9 117.1 L278.8 116.5 L280.6 115.6 L282.8 114.4 L286.3 111.6 L289.7 107.9 L292.6 103.9 L295.6 98.7 L297.9 93.7 L300.4 87.7 L302.8 81.1 L305.7 72.6 L313.3 48.2 L327.4 0.8M272.3 118.4 L276.3 119 L278.3 119 L280.2 118.8 L282.2 118.3 L284.1 117.7 L285.9 116.8 L288.1 115.6 L291.6 112.8 L295 109.1 L297.9 105.1 L300.8 99.8 L303.2 94.9 L305.6 88.8 L308.2 81.8 L311 73.2 L318.6 48.4 L332.4 0.8M278 119.7 L281.9 120.3 L283.9 120.3 L285.9 120.1 L287.9 119.6 L289.8 119 L291.6 118.1 L293.7 116.9 L297.3 114.1 L300.6 110.4 L303.5 106.3 L306.5 101.1 L308.8 96.1 L311.2 90.1 L313.7 83 L316.5 74.5 L323.9 49.6 L337.8 1M283.9 121.1 L287.9 121.7 L289.9 121.7 L291.9 121.4 L293.8 121 L295.7 120.4 L297.5 119.5 L299.7 118.3 L303.2 115.5 L306.6 111.8 L309.7 107.3 L312.6 102 L314.9 97 L317.2 90.9 L319.7 83.9 L322.6 74.8 L330 49.4 L343.5 0.7" fill="none" stroke="#da251c" stroke-width="1.60"/>
<path d="M290 122.5 L294 123.1 L296 123.1 L298 122.9 L299.9 122.4 L301.8 121.8 L303.6 121 L305.8 119.7 L309.3 116.9 L312.7 113.2 L315.8 108.7 L318.7 103.4 L320.9 98.4 L323.3 92.3 L325.7 85.2 L328.5 76.2 L335.9 50.2 L349.5 0.5M296.4 124 L300.3 124.6 L302.3 124.6 L304.3 124.4 L306.3 124 L308.1 123.3 L310 122.5 L312.1 121.2 L315.6 118.4 L319 114.7 L322.1 110.2 L324.9 104.9 L327.4 99.4 L329.7 93.3 L332.1 86.2 L334.8 77.1 L342.3 50.7 L355.6 0.9M302.7 125.5 L306.7 126.2 L308.7 126.2 L310.6 125.9 L312.6 125.5 L314.5 124.9 L316.3 124 L318.5 122.8 L322 119.9 L325.3 116.2 L328.4 111.7 L331.4 105.9 L333.8 100.4 L336.1 94.3 L338.4 87.2 L341.2 78.1 L348.6 51.1 L361.9 0.9M309.2 127.1 L313.2 127.8 L315.2 127.8 L317.1 127.6 L319.1 127.1 L321 126.5 L322.8 125.6 L325 124.4 L328.5 121.5 L331.8 117.8 L334.9 113.3 L337.9 107.5 L340.2 102 L342.5 95.9 L344.9 88.3 L347.6 79.2 L355.1 51.7 L368.3 0.9M315.9 128.8 L319.8 129.5 L321.8 129.5 L323.8 129.2 L325.8 128.8 L327.7 128.2 L329.5 127.3 L331.6 126 L335.1 123.2 L338.4 119.5 L341.5 114.9 L344.5 109.2 L346.8 103.6 L349 97.5 L351.5 89.9 L354.1 80.8 L361.7 52.3 L374.9 0.9" fill="none" stroke="#da251c" stroke-width="1.55"/>
<path d="M322.6 130.5 L326.5 131.2 L328.5 131.2 L330.5 131 L332.5 130.5 L334.4 129.9 L336.2 129.1 L338.3 127.8 L341.8 124.9 L345.1 121.2 L348.1 116.6 L351.1 110.8 L353.4 105.3 L355.6 99.2 L358 91.5 L360.8 81.9 L368.4 52.9 L381.6 0.6M329.6 132.3 L331.5 132.8 L333.5 133 L335.5 133 L337.5 132.8 L339.5 132.4 L341.4 131.7 L343.2 130.9 L345.3 129.6 L348.8 126.8 L352.1 123 L355.1 118.4 L358 112.6 L360.3 107.1 L362.6 100.5 L365 92.8 L367.7 83.2 L375.5 53.2 L388.5 0.8M336.7 134.2 L339.1 134.8 L341.1 135 L343.1 134.9 L345.1 134.7 L347 134.2 L348.9 133.5 L350.7 132.6 L352.8 131.2 L356.2 128.3 L359.4 124.5 L362.3 119.8 L365.2 114 L367.4 108.4 L369.7 101.8 L372 94.2 L374.8 84 L382.6 53.5 L395.5 0.6M344 136.2 L346.5 136.8 L348.4 137 L350.4 137 L352.4 136.7 L354.4 136.2 L356.2 135.5 L358 134.6 L360.1 133.3 L363.5 130.3 L366.7 126.5 L369.6 121.8 L372.5 116 L374.7 110.4 L376.9 103.8 L379.2 96.1 L382 86 L389.9 54.4 L402.8 1M351.5 138.3 L353.9 138.9 L355.9 139.1 L357.9 139.1 L359.9 138.8 L361.8 138.3 L363.7 137.6 L365.5 136.7 L367.6 135.3 L370.9 132.4 L374.1 128.5 L377 123.8 L379.8 118 L382 112.4 L384.2 105.8 L386.6 97.6 L389.3 87.5 L397.4 54.9 L410.2 0.9M359.1 140.5 L361.1 141 L363 141.3 L365 141.3 L367 141.1 L369 140.7 L370.9 140 L372.7 139.2 L374.8 137.8 L376.7 136.3 L378.5 134.6 L381.7 130.7 L384.6 126 L387.3 120.1 L389.5 114.5 L391.7 107.8 L394 99.7 L396.8 89 L405 55.5 L417.7 1M366.9 142.8 L368.8 143.3 L370.8 143.6 L372.8 143.6 L374.8 143.4 L376.7 143 L378.6 142.3 L380.4 141.4 L382.5 140.1 L384.5 138.5 L386.3 136.8 L389.4 132.9 L392.2 128.2 L394.9 122.3 L397.1 116.7 L399.3 109.5 L401.8 100.9 L404.5 90.2 L412.8 55.7 L425.5 0.6M374.9 145.2 L376.8 145.7 L378.8 146 L380.8 146 L382.7 145.8 L384.7 145.4 L386.6 144.7 L388.4 143.8 L390.5 142.5 L392.4 140.9 L394.2 139.1 L397.3 135.2 L400.1 130.5 L402.7 124.6 L404.8 118.9 L407.1 111.8 L409.5 103.1 L412.3 92 L420.7 56.4 L433.3 0.8M382.8 147.6 L384.7 148.1 L386.7 148.4 L388.7 148.5 L390.6 148.3 L392.6 147.8 L394.5 147.1 L396.3 146.2 L398.3 144.9 L400.3 143.3 L402 141.5 L405.1 137.5 L407.8 132.8 L410.5 126.9 L412.7 120.7 L414.9 113.6 L417.2 104.9 L420 93.7 L428.5 57.2 L441.1 0.6M390.8 150.1 L392.8 150.7 L394.7 151 L396.7 151 L398.7 150.8 L400.7 150.4 L402.5 149.7 L404.3 148.7 L406.4 147.4 L407.9 146.1 L409.7 144.3 L412.8 140.4 L415.8 135.2 L418.4 129.2 L420.5 123.1 L422.7 115.9 L425.1 106.7 L428 95.1 L436.6 57.6 L448.9 0.9M398.9 152.7 L400.8 153.3 L402.7 153.6 L404.7 153.6 L406.7 153.4 L408.7 152.9 L410.5 152.2 L412.3 151.3 L414.4 149.9 L415.9 148.6 L417.7 146.8 L420.7 142.8 L423.6 137.6 L426.2 131.6 L428.3 125.5 L430.6 117.8 L433 108.6 L435.9 96.5 L444.4 58.4 L456.8 0.7M406.9 155.3 L408.8 155.9 L410.8 156.2 L412.8 156.3 L414.8 156 L416.7 155.5 L418.6 154.8 L420.3 153.9 L422.4 152.5 L423.9 151.2 L425.7 149.4 L428.6 145.4 L431.5 140.1 L434 134.1 L436.1 127.9 L438.3 120.3 L440.8 110.6 L443.8 97.9 L452.4 58.9 L464.6 0.6M415 158 L416.9 158.6 L418.9 158.9 L420.9 159 L422.9 158.7 L424.8 158.2 L426.7 157.5 L428.4 156.5 L430.5 155.1 L432 153.8 L433.7 151.9 L436.6 147.9 L439.2 143.1 L441.7 137.1 L443.8 130.9 L446 123.2 L448.4 113.5 L451.5 100.4 L460.2 60.3 L472.5 0.6M423.1 160.8 L425 161.3 L427 161.7 L429 161.7 L431 161.5 L432.9 160.9 L434.8 160.2 L436.5 159.2 L438.1 158.1 L439.7 156.8 L441.4 155 L444.4 150.9 L447.2 145.7 L449.6 139.6 L451.8 133 L453.9 125.3 L456.4 115.1 L459.5 101.4 L468.2 60.8 L480.4 0.6M431.3 163.6 L433.2 164.1 L435.1 164.5 L437.1 164.5 L439.1 164.3 L441 163.7 L442.9 163 L444.6 162 L446.3 160.8 L447.8 159.5 L449.5 157.7 L452.4 153.6 L455.2 148.3 L457.5 142.2 L459.7 135.6 L461.9 127.4 L464.4 116.7 L467.5 103 L476.2 61.4 L488.3 0.6M439.3 166.4 L441.3 167 L443.2 167.3 L445.2 167.3 L447.2 167.1 L449.1 166.5 L451 165.8 L452.7 164.7 L454.3 163.6 L455.8 162.2 L457.5 160.4 L460.3 156.3 L462.9 151.4 L465.4 144.9 L467.5 138.2 L469.8 129.5 L475.5 104.1 L484.1 62 L496.1 0.7M447.4 169.2 L449.3 169.8 L451.2 170.2 L452.7 170.2 L454.7 170 L456.7 169.5 L458.5 168.8 L460.3 167.8 L462.3 166.3 L463.7 165 L465.4 163.1 L468.2 159 L470.7 154.1 L473.2 147.5 L475.2 140.8 L477.4 132.1 L483.3 105.8 L491.9 63.1 L503.9 0.8M455.3 172.1 L457.2 172.7 L459.2 173 L460.7 173.1 L462.7 172.9 L464.6 172.4 L466.5 171.6 L468.2 170.6 L470.2 169.1 L471.6 167.7 L473.3 165.9 L476 161.7 L478.5 156.8 L480.7 150.7 L482.9 143.5 L485.1 134.8 L487.7 123.1 L491 107.4 L499.6 63.7 L511.5 0.9M463.2 175 L465.1 175.6 L467.1 175.9 L468.6 176 L470.6 175.8 L472.5 175.2 L474.3 174.5 L476 173.4 L477.6 172.2 L479.1 170.9 L480.8 169 L483.5 164.9 L486 159.9 L488.4 153.4 L490.5 146.2 L492.6 137.4 L495.3 125.2 L498.7 109.1 L507.3 64.9 L519.1 1M470.9 177.8 L472.8 178.5 L474.8 178.8 L476.3 178.8 L478.3 178.6 L480.2 178.1 L482 177.3 L483.7 176.3 L485.3 175 L486.8 173.7 L488.4 171.8 L491.1 167.6 L493.5 162.6 L495.9 156 L497.9 148.8 L500.2 139.1 L506.4 109.7 L514.9 65 L526.6 0.6M478.7 180.8 L480.6 181.4 L482.5 181.7 L484 181.7 L486 181.5 L487.9 181 L489.8 180.1 L491.5 179.1 L493 177.9 L494.5 176.5 L496.1 174.6 L498.8 170.3 L501.1 165.4 L503.4 158.7 L505.4 151.5 L507.7 141.8 L513.9 111.4 L522.4 66.2 L534 0.7M486.3 183.7 L488.2 184.3 L490.2 184.6 L491.7 184.7 L493.7 184.4 L495.6 183.9 L497.4 183 L499.1 182 L500.7 180.7 L502.1 179.3 L503.7 177.4 L506.3 173.1 L508.6 168.1 L510.8 161.5 L512.9 153.8 L515.2 144 L521.4 112.6 L529.8 67.4 L541.4 0.9M493.9 186.6 L495.8 187.2 L497.8 187.5 L499.3 187.6 L501.3 187.3 L503.2 186.7 L505 185.9 L506.7 184.8 L508.2 183.5 L510.9 180.5 L513.5 176.3 L515.8 171.3 L518 164.7 L520.1 156.9 L522.4 146.7 L528.8 114.3 L537.1 68.1 L548.7 0.5M501.5 189.5 L503.4 190.2 L505.4 190.5 L506.9 190.5 L508.9 190.2 L510.8 189.6 L512.6 188.8 L514.2 187.7 L515.7 186.4 L518.4 183.3 L520.9 179.1 L523.1 174 L525.3 167.4 L527.3 159.6 L529.7 148.9 L536.2 115.5 L544.4 68.7 L555.9 0.7M509.1 192.5 L510.9 193.1 L512.4 193.4 L513.9 193.5 L515.9 193.3 L517.8 192.7 L519.6 191.9 L521.3 190.8 L522.9 189.5 L524.2 188.1 L525.8 186.1 L528.3 181.8 L530.5 176.8 L532.6 170.1 L534.7 161.9 L537 151.1 L543.5 116.7 L551.6 69.9 L563 0.9M516.5 195.4 L518.4 196.1 L519.9 196.4 L521.3 196.4 L523.3 196.2 L525.2 195.7 L527.1 194.8 L528.7 193.7 L530.2 192.4 L532.8 189.3 L535.4 185 L537.5 180 L539.6 173.3 L541.6 165 L544 153.8 L550.6 118.4 L558.7 71.1 L570 1M523.8 198.4 L525.7 199 L527.2 199.3 L528.7 199.4 L530.7 199.1 L532.6 198.5 L534.4 197.7 L536 196.5 L537.5 195.2 L540.1 192.1 L542.5 187.8 L544.6 182.7 L546.6 176 L548.7 167.2 L551.2 155.5 L557.7 119.6 L565.7 71.7 L577 0.6M531.2 201.4 L533 202 L534.5 202.3 L536 202.3 L538 202.1 L539.4 201.6 L541.2 200.8 L542.9 199.7 L544.4 198.4 L547 195.3 L548.3 193.2 L549.5 191 L551.5 185.9 L553.5 179.2 L555.6 170.4 L558 158.7 L561.1 142 L564.6 121.8 L572.6 72.9 L583.9 0.8M538.4 204.3 L540.3 205 L541.8 205.3 L543.3 205.3 L545.2 205 L546.7 204.6 L548.5 203.7 L550.1 202.6 L551.6 201.3 L554.1 198.1 L556.5 193.8 L558.5 188.7 L560.5 181.9 L562.5 173.2 L565.1 160.4 L571.6 123 L579.5 74.1 L590.7 1M545.5 207.3 L547.4 207.9 L548.9 208.2 L550.4 208.2 L552.3 208 L553.8 207.5 L555.5 206.6 L557.2 205.4 L558.6 204.1 L561.1 200.9 L563.5 196.5 L565.4 191.4 L567.3 184.7 L569.4 175.4 L571.9 162.6 L578.5 124.2 L586.3 74.8 L597.4 0.6M552.6 210.3 L554.5 210.9 L555.9 211.2 L557.4 211.2 L558.9 211 L560.4 210.6 L562.2 209.8 L563.8 208.7 L565.3 207.3 L567.8 204.2 L569.1 202.1 L570.2 199.8 L572.1 194.7 L574 187.9 L576.1 178.7 L578.6 165.4 L581.7 147.7 L585.2 126.5 L593 76.1 L604.1 0.9M559.5 213.3 L561.4 213.9 L562.9 214.2 L564.4 214.2 L565.9 214 L567.3 213.6 L569.1 212.7 L570.8 211.6 L572.2 210.2 L574.7 207.1 L577 202.6 L578.8 197.5 L580.7 190.7 L582.8 181 L585.4 167.2 L588.5 149 L592 127.7 L599.7 76.8 L610.7 0.6M566.5 216.3 L568.4 217 L569.8 217.3 L571.3 217.3 L572.8 217.1 L574.3 216.6 L576.1 215.7 L577.7 214.6 L579.1 213.2 L581.5 210 L583.8 205.5 L585.6 200.4 L587.4 193.6 L589.5 183.8 L592.1 169.5 L595.2 151.3 L598.6 129.6 L606.3 78.1 L617.2 0.9M573.3 219.3 L575.2 220 L576.7 220.3 L578.1 220.3 L579.6 220.1 L581.1 219.6 L582.8 218.7 L584.5 217.6 L585.9 216.2 L588.2 212.9 L590.4 208.4 L592.2 203.2 L594 196.5 L596.1 186.2 L598.7 171.4 L601.8 152.7 L605.2 130.9 L612.8 79 L623.6 0.7M580.1 222.4 L581.9 223.1 L583.4 223.4 L584.9 223.4 L586.4 223.2 L587.8 222.7 L589.6 221.8 L591.2 220.6 L592.6 219.2 L594.9 215.9 L596.9 211.9 L598.7 206.7 L600.5 199.4 L602.7 188.6 L605.4 173.4 L611.7 132.9 L619.2 80.4 L630 0.6M586.8 225.5 L588.7 226.3 L590.2 226.5 L591.7 226.5 L593.1 226.3 L594.6 225.8 L596.3 224.9 L597.9 223.7 L599.3 222.3 L601.6 219 L603.5 214.9 L605.2 209.7 L607 202.4 L609.2 191.6 L611.9 175.9 L618.2 134.8 L625.6 81.9 L636.3 0.6M593.6 228.7 L595.4 229.5 L596.9 229.8 L598.4 229.8 L599.9 229.5 L601.3 229 L603 228.1 L604.6 226.9 L606 225.4 L608.2 222.1 L610.1 218 L611.8 212.8 L613.6 205.5 L615.8 194.2 L618.4 178.4 L621.4 159.2 L624.7 136.9 L632 82.9 L642.7 0.6M600.3 232 L602.1 232.8 L603.6 233 L605.1 233 L606.6 232.8 L608 232.3 L609.7 231.3 L610.9 230.4 L612.3 229 L613.6 227.4 L614.6 225.7 L616.7 221.2 L618.4 216 L620.1 208.7 L622.3 196.9 L625 180.6 L631.1 139 L638.4 84.5 L648.9 0.7M607 235.3 L608.8 236.1 L610.3 236.4 L611.8 236.4 L613.3 236.1 L614.7 235.6 L616.4 234.7 L617.6 233.7 L619 232.3 L620.2 230.7 L621.3 229 L623.1 224.9 L624.9 219.2 L626.6 211.9 L628.8 200.1 L631.5 183.3 L634.4 163.5 L637.5 141.2 L644.7 86.2 L655.1 0.8M613.6 238.7 L615.5 239.5 L616.9 239.8 L618.4 239.8 L619.9 239.5 L621.3 239 L623 238 L624.2 237.1 L625.6 235.7 L626.8 234 L627.8 232.3 L629.6 228.2 L631.4 222.5 L633 215.2 L635.2 202.9 L637.9 186.1 L640.8 166.3 L643.9 143 L650.9 87.4 L661.3 0.5M620.3 242.2 L622.1 243 L623.6 243.3 L625.1 243.3 L626.6 243.1 L628 242.5 L629.7 241.5 L630.9 240.6 L632.2 239.1 L633.4 237.5 L634.4 235.8 L636.2 231.6 L637.9 225.9 L639.5 218.6 L641.8 205.8 L644.4 188.5 L647.2 168.7 L650.3 145.4 L657.2 88.8 L667.3 0.9M626.9 245.8 L628.7 246.6 L630.2 246.9 L631.7 246.9 L633.2 246.6 L634.6 246.1 L636.3 245.1 L637.5 244.1 L638.8 242.6 L640 241 L640.9 239.3 L642.7 235.1 L644.4 229.4 L645.9 222 L648.1 209.2 L650.8 191.4 L653.6 171.1 L656.6 147.8 L663.3 90.7 L673.3 0.7M633.5 249.4 L635.3 250.2 L636.8 250.5 L638.3 250.5 L639.8 250.3 L641.2 249.7 L642.9 248.7 L644 247.7 L645.3 246.2 L646.5 244.6 L647.5 242.9 L649.3 238.2 L650.9 232.4 L652.4 225.1 L654.6 211.8 L657.2 194 L659.9 173.6 L662.9 149.8 L669.4 92.2 L679.2 0.7M640.1 253.1 L641.9 253.9 L643.3 254.3 L644.8 254.3 L646.3 254 L647.7 253.5 L649.4 252.4 L650.5 251.4 L651.9 249.9 L653 248.3 L653.9 246.5 L655.6 242.3 L657.2 236.6 L658.8 228.7 L660.9 215.4 L663.5 197.1 L666.2 176.2 L669 152.4 L675.5 93.8 L685.1 0.8M646.6 256.9 L648.4 257.8 L649.8 258.1 L651.3 258.1 L652.8 257.8 L654.2 257.3 L655.9 256.2 L657 255.2 L658.3 253.7 L660.4 250.3 L662 246.1 L663.5 240.3 L665.1 232.4 L667.2 218.6 L669.8 200.3 L672.4 179.4 L675.2 155.1 L681.5 95.4 L690.9 0.9M653 260.7 L654.8 261.6 L656.3 261.9 L657.8 262 L659.2 261.7 L660.6 261.1 L662.3 260 L663.4 259 L664.7 257.5 L666.7 254 L668.4 249.4 L669.9 243.5 L671.4 235.7 L673.6 221.3 L676.1 202.5 L678.6 181.7 L681.3 157.3 L687.4 97.1 L696.6 0.6M659.4 264.6 L661.2 265.6 L662.7 265.9 L664.2 265.9 L665.6 265.6 L667 265.1 L668.7 264 L669.8 262.9 L671.1 261.4 L673 257.9 L674.7 253.2 L676.2 247.4 L677.7 239.1 L679.9 224.2 L682.3 205.4 L684.8 184 L687.4 159.7 L693.3 98.9 L702.3 0.8M665.7 268.6 L667.5 269.5 L668.9 269.9 L670.4 269.9 L671.9 269.6 L673.3 269 L675 267.9 L676.1 266.9 L677.3 265.4 L679.3 261.9 L680.9 257.2 L682.3 251.3 L683.8 243 L686 227.6 L688.3 208.8 L690.7 187.4 L693.3 162.5 L699.1 100.8 L707.9 0.7M671.9 272.6 L673.7 273.6 L675.2 273.9 L676.7 274 L678.1 273.7 L679.5 273.1 L681.2 272 L682.2 270.9 L683.5 269.4 L685.4 265.9 L687 261.1 L688.5 254.8 L689.9 246.4 L692 231.1 L694.4 211.7 L696.8 189.9 L699.2 165 L704.9 102.2 L713.4 0.6M678.1 276.7 L679.8 277.7 L681.3 278.1 L682.8 278.1 L684.3 277.8 L685.6 277.2 L687.3 276.1 L688.4 275 L689.6 273.5 L691.5 269.9 L693.1 265.2 L694.5 258.9 L695.9 250 L698.1 234.1 L700.3 214.7 L702.6 192.9 L705 168 L710.5 104.7 L718.9 0.6M684.2 280.9 L685.4 281.7 L686.8 282.1 L688.3 282.3 L690.3 281.9 L691.7 281.4 L693.3 280.2 L694.4 279.2 L695.6 277.6 L697.5 274 L699 269.3 L700.4 262.9 L701.9 253.6 L704 237.2 L706.2 217.8 L708.5 195.9 L710.8 170.5 L716.1 106.3 L724.3 0.6" fill="none" stroke="#da251c" stroke-width="1.50"/>
<path d="M689.9 284.9 L691.2 285.7 L692.6 286.2 L694.1 286.4 L696.1 286 L697.4 285.4 L699.1 284.3 L700.1 283.2 L701.3 281.6 L703.2 278.1 L704.7 273.3 L706 266.9 L707.6 257.1 L709.6 240.7 L711.8 220.8 L714 198.9 L716.3 173 L721.5 108.2 L729.5 0.5M695.4 288.9 L696.7 289.7 L698.1 290.2 L699.6 290.3 L701.5 290 L702.9 289.4 L704.5 288.2 L705.9 286.8 L707 285.1 L708.7 281.5 L710.2 276.7 L711.5 270.3 L712.9 260.5 L715 243.6 L717.2 223.7 L719.3 201.3 L721.6 175.4 L726.6 109.6 L734.4 0.9M700.7 292.8 L702 293.6 L703.4 294.1 L704.9 294.3 L706.8 293.9 L708.2 293.3 L709.8 292.1 L711.2 290.7 L712.3 289 L714 285.4 L715.5 280.1 L716.8 273.2 L718.2 263.3 L720.3 246.5 L722.4 226.6 L724.5 204.2 L726.7 177.8 L731.6 111.4 L739.3 0.7M705.9 296.7 L707.2 297.5 L708.6 298.1 L710.1 298.2 L712 297.9 L713.4 297.3 L715 296.1 L716.4 294.6 L717.5 292.9 L719.1 289.3 L720.6 284 L721.9 277.1 L723.4 266.7 L725.5 249.4 L727.5 229.5 L729.6 206.6 L731.7 180.2 L736.6 112.8 L744.1 0.6M711.1 300.7 L712.3 301.5 L713.7 302.1 L715.2 302.2 L717.2 301.9 L718.5 301.2 L720.1 300.1 L721.5 298.6 L722.6 296.9 L724.2 293.3 L725.7 288 L727 280.6 L728.5 269.7 L730.6 252.3 L732.6 231.9 L734.6 209 L736.7 182.6 L741.5 114.8 L748.9 1M716.1 304.7 L717.4 305.5 L718.8 306.1 L720.2 306.2 L722.2 305.9 L723.6 305.2 L725.2 304 L726.5 302.5 L727.8 300.4 L728.7 298.6 L729.5 296.3 L730.9 290.9 L732.1 283.5 L733.6 272.6 L735.6 254.8 L737.6 234.3 L739.6 211.4 L741.6 184.5 L746.3 116.2 L753.6 0.9M721.1 308.7 L722.3 309.5 L723.7 310.1 L725.2 310.2 L727.2 309.9 L728.5 309.3 L730.1 308 L731.4 306.5 L732.7 304.4 L734.4 300.3 L735.7 294.9 L737.1 287 L738.5 275.6 L740.5 257.7 L742.5 237.3 L744.5 213.9 L746.5 187 L751.1 118.1 L758.3 0.9M726 312.7 L727.2 313.6 L728.6 314.2 L730.1 314.3 L732.1 314 L733.4 313.3 L735 312.1 L736.3 310.6 L737.6 308.5 L739.3 304.3 L740.6 298.9 L741.9 291 L743.5 278.7 L745.5 260.3 L747.4 239.8 L749.3 216.4 L751.3 189 L755.9 119.2 L762.9 0.9M730.9 316.8 L732.1 317.7 L733.5 318.3 L735 318.4 L736.9 318.1 L738.3 317.4 L739.8 316.2 L741.1 314.7 L742.4 312.5 L744.1 308.4 L745.4 302.5 L746.8 294.1 L748.3 281.7 L750.3 263.3 L752.2 242.9 L754.1 219 L756.1 191.6 L760.5 121.2 L767.6 0.9M735.7 321 L736.9 321.9 L738.3 322.4 L739.7 322.6 L741.7 322.2 L743 321.6 L744.6 320.3 L745.9 318.8 L747.2 316.7 L748.8 312.5 L750.2 306.6 L751.5 297.7 L753.1 284.8 L755.1 266.4 L757 245.5 L758.8 221.6 L760.8 193.7 L765.2 122.8 L772.1 1" fill="none" stroke="#da251c" stroke-width="1.45"/>
<path d="M740.4 325.1 L742 326.3 L743.5 326.7 L745 326.7 L746.9 326.2 L748.2 325.5 L749.7 324.1 L750.9 322.6 L752.1 320.4 L753.6 316.1 L755 309.8 L756.3 300.9 L757.9 287.5 L759.9 268.6 L761.7 247.7 L763.5 223.7 L765.5 195.8 L769.8 123.9 L776.7 0.6M745.1 329.3 L746.7 330.5 L748.1 330.9 L749.6 331 L751.6 330.4 L752.9 329.7 L754.3 328.3 L755.6 326.8 L756.7 324.6 L758.2 320.3 L759.6 314 L761 304.6 L762.6 290.7 L764.5 271.8 L766.4 250.8 L768.2 226.4 L770.1 198 L774.4 125.6 L781.2 0.8M749.7 333.6 L750.9 334.5 L752.3 335.1 L753.8 335.3 L755.7 334.9 L757.5 333.9 L759 332.6 L760.2 331 L761.3 328.8 L762.2 326.5 L762.9 324.1 L764.2 317.7 L765.7 307.8 L767.3 293.4 L769.2 274.5 L771 253.1 L772.8 228.6 L774.7 200.2 L778.9 127.3 L785.6 0.5M754.3 337.9 L755.9 339 L757.3 339.5 L758.8 339.5 L760.7 339 L762.4 337.9 L763.8 336.5 L765 334.9 L766.1 332.6 L767.6 327.8 L768.8 321.5 L770.3 311.1 L771.9 296.7 L773.8 277.8 L775.6 256.3 L777.3 231.9 L779.2 203 L783.4 129.1 L790 0.7M758.8 342.2 L760.4 343.4 L761.8 343.8 L763.3 343.9 L765.3 343.3 L766.9 342.2 L768.3 340.8 L769.4 339.2 L770.5 336.9 L772 332.1 L773.3 325.3 L774.8 314.4 L776.5 299.5 L778.4 280.1 L780.1 258.6 L781.9 233.7 L783.7 204.7 L787.8 130.4 L794.4 0.5M763.3 346.5 L764.9 347.8 L766.3 348.2 L767.8 348.3 L769.7 347.7 L771.4 346.6 L772.8 345.2 L773.9 343.5 L775 341.3 L776.5 336.5 L777.8 329.6 L779.3 318.2 L781.1 302.3 L782.9 282.9 L784.7 261 L786.4 236 L788.2 207.1 L792.2 132.2 L798.7 0.9M767.8 350.9 L769.3 352.2 L770.7 352.6 L772.2 352.7 L774.2 352.1 L775.8 351 L777.2 349.6 L778.3 347.9 L779.4 345.6 L780.8 340.9 L782.2 333.5 L783.8 321.1 L785.6 305.2 L787.4 285.8 L789.1 263.9 L790.8 238.4 L792.6 209 L796.6 133.6 L803 0.7M772.1 355.3 L773.7 356.6 L775.1 357.1 L776.6 357.1 L778.5 356.5 L780.2 355.5 L781.5 354 L782.9 351.9 L783.9 349.6 L785.4 344.3 L786.6 336.9 L788.3 324.5 L790 308.1 L791.8 288.7 L793.5 266.3 L795.2 240.8 L797 211.4 L800.9 135 L807.3 0.6M776.4 359.8 L778 361 L779.4 361.5 L780.9 361.6 L782.8 361 L784.4 359.9 L785.8 358.4 L787.1 356.3 L788.1 354 L789.6 348.7 L791 340.9 L792.7 327.5 L794.4 311.1 L796.2 291.6 L797.9 269.2 L799.5 243.8 L801.3 213.8 L805.2 136.9 L811.5 0.5M780.6 364.2 L782.2 365.4 L783.6 365.9 L785.1 365.9 L787 365.3 L788.7 364.2 L790 362.8 L791.3 360.6 L792.3 358.3 L793.8 353 L795.2 344.7 L797 330.8 L798.8 313.4 L800.6 293.5 L802.2 271 L803.9 245.6 L805.6 215.6 L809.4 138.2 L815.7 0.9M784.7 368.4 L786.3 369.6 L787.7 370.1 L789.2 370.1 L791.1 369.5 L792.7 368.4 L794.1 366.9 L795.4 364.8 L796.5 362 L798 356.2 L799.4 347.8 L801.2 333.4 L803 316 L804.7 296.1 L806.4 273.7 L808 247.7 L809.7 217.3 L813.5 139.4 L819.7 0.5M788.6 372.5 L790.2 373.7 L791.6 374.2 L793.1 374.2 L795 373.6 L796.7 372.5 L798 371 L799.3 368.8 L800.4 366.1 L801.9 360.3 L803.4 350.9 L805.3 336 L807.1 318.1 L808.8 298.2 L810.5 275.2 L812.1 249.3 L813.8 218.8 L817.5 140.4 L823.6 0.5" fill="none" stroke="#da251c" stroke-width="1.40"/>
<path d="M792.5 376.4 L794 377.7 L795.5 378.1 L797 378.2 L798.9 377.6 L800.5 376.4 L801.8 374.9 L803.1 372.8 L804.2 370 L805.1 367.1 L805.8 363.7 L807.3 354.3 L809.3 338.4 L811.1 320.5 L812.8 300.6 L814.4 277.7 L816 251.7 L817.7 220.8 L821.4 141.9 L827.4 1M796.2 380.3 L797.7 381.5 L799.2 382 L800.7 382 L802.6 381.4 L804.2 380.2 L805.5 378.7 L806.8 376.6 L807.9 373.8 L808.7 370.9 L809.5 367.5 L811 357.6 L813.1 341.3 L814.9 322.8 L816.6 302.4 L818.2 279.5 L819.8 253.5 L821.5 222.6 L825.1 143.2 L831.1 0.8M799.8 384 L801.4 385.3 L802.8 385.7 L804.8 385.6 L806.6 384.9 L808.2 383.6 L809.4 382.1 L810.6 379.9 L811.7 377.1 L813.2 370.7 L814.8 359.9 L816.8 343.5 L818.7 325.1 L820.4 304.7 L822 281.7 L823.5 255.3 L825.2 224.3 L828.8 144.4 L834.7 1M803.4 388.2 L804.8 389.5 L806.2 390.1 L807.2 390.2 L808.2 390.1 L810 389.4 L811.6 388.1 L812.9 386.6 L814.1 384.4 L815.2 381.6 L816 378.7 L816.8 374.8 L818.5 364 L820.5 347.1 L822.4 328.2 L824.1 307.7 L825.6 284.8 L827.2 258.3 L828.8 226.9 L832.4 146 L838.2 0.6M806.9 392.7 L808.3 394.1 L809.7 394.6 L810.7 394.7 L811.7 394.7 L813.6 393.9 L815.1 392.7 L816.4 391.2 L817.6 389 L818.7 386.2 L819.5 383.3 L820.3 379.4 L822.1 367.5 L824.2 350.7 L826.1 331.3 L827.7 310.8 L829.3 287.4 L830.9 260.4 L832.5 229 L836 147.5 L841.8 0.7M810.5 397.4 L811.1 398.2 L811.9 398.8 L813.2 399.4 L814.2 399.5 L815.2 399.4 L817.1 398.7 L818.7 397.5 L820.2 395.6 L821.4 393.3 L822.4 390.5 L823.2 387.1 L824 383.2 L825.9 370.8 L827.9 354 L829.7 334.6 L831.4 313.6 L833 290.2 L834.5 263.2 L836.1 231.8 L839.6 149.8 L845.3 0.9M814 402.3 L814.6 403.1 L815.4 403.7 L816.7 404.4 L817.7 404.5 L818.7 404.4 L820.6 403.7 L822.2 402.5 L823.7 400.6 L824.9 398.3 L825.9 395.5 L826.7 392.1 L827.5 388.2 L829.4 375.3 L831.5 358 L833.4 338.1 L835 317.1 L836.6 293.7 L838.1 266.2 L839.7 234.3 L843.1 151.3 L848.8 0.9M817.5 407.4 L818.1 408.2 L818.8 408.9 L820.2 409.5 L821.2 409.7 L822.2 409.6 L824 408.9 L825.6 407.7 L827.2 405.7 L828.3 403.5 L829.3 400.7 L830.2 397.3 L831.1 392.9 L833 379.5 L835.1 361.7 L837 341.8 L838.6 320.8 L840.2 296.9 L841.7 269.4 L843.2 237 L846.7 153.5 L852.3 0.6M820.9 412.7 L821.5 413.5 L822.3 414.2 L823.6 414.9 L824.6 415 L825.6 415 L827.5 414.3 L829 413.1 L830.6 411.1 L831.7 408.9 L832.9 405.6 L833.7 402.2 L834.6 397.3 L836.7 382.9 L838.8 365.1 L840.6 345.1 L842.3 323.7 L843.8 299.8 L845.3 272.3 L846.8 239.8 L850.2 155.4 L855.8 1M824.4 418.2 L824.9 419 L825.6 419.7 L827 420.4 L828 420.6 L829 420.5 L830.8 419.8 L832.4 418.6 L834 416.7 L835.1 414.4 L836.2 411.1 L837.1 407.7 L838 402.8 L840.1 388 L842.3 369.6 L844.1 349.2 L845.8 327.8 L847.3 303.8 L848.8 275.8 L850.3 242.9 L853.6 157.4 L859.2 0.5M827.7 423.9 L828.3 424.7 L829 425.4 L830.3 426.1 L831.3 426.3 L832.3 426.2 L834.2 425.6 L835.8 424.4 L837.3 422.4 L838.4 420.2 L839.6 416.9 L840.5 413 L841.4 408.1 L843.6 392.7 L845.7 374.3 L847.7 353.4 L849.3 332 L850.8 307.5 L852.2 279.6 L853.8 246.1 L857.1 160.2 L862.6 0.8M831.1 429.7 L831.6 430.5 L832.3 431.2 L833.6 431.9 L834.6 432.1 L835.6 432 L837.5 431.4 L839.1 430.1 L840.6 428.2 L841.7 426 L842.9 422.6 L843.8 418.8 L844.8 413.3 L847.1 397.5 L849.2 378.6 L851.2 357.2 L852.8 335.3 L854.3 310.8 L855.7 282.4 L857.2 248.9 L860.5 162 L866 0.6" fill="none" stroke="#da251c" stroke-width="1.35"/>
<path d="M834.4 435.6 L834.9 436.4 L835.6 437.2 L836.4 437.7 L837.4 438 L838.4 438 L839.4 437.9 L841.2 437 L842.7 435.7 L844.1 433.7 L845.2 431.4 L846.3 428.1 L847.3 423.7 L848.3 418.3 L850.6 402 L852.7 383.1 L854.6 361.7 L856.2 339.7 L857.7 314.8 L859.2 286.3 L860.6 252.3 L863.9 164.4 L869.4 0.5M837.6 441.7 L838.2 442.5 L838.8 443.2 L839.7 443.8 L840.6 444.1 L841.6 444.1 L842.6 444 L844.4 443.2 L845.9 441.8 L847.4 439.8 L848.4 437.5 L849.5 434.2 L850.5 429.8 L851.5 424.4 L853.9 407.1 L856.1 387.7 L858.1 365.8 L859.6 343.9 L861.1 318.9 L862.6 289.9 L864 256 L867.3 167 L872.7 0.6M840.9 447.9 L841.4 448.8 L842.1 449.5 L842.9 450.1 L843.9 450.4 L844.9 450.4 L845.9 450.3 L847.7 449.5 L849.2 448.1 L850.6 446.1 L851.7 443.8 L852.8 440.5 L853.8 436.1 L854.8 430.2 L857.3 412.4 L859.5 392.5 L861.5 370.6 L863.1 348.2 L864.5 323.2 L866 294.2 L867.4 259.8 L870.6 169.8 L876.1 0.9M844.2 454.4 L844.7 455.3 L845.3 456 L846.2 456.5 L847.1 456.8 L848.1 456.9 L849.1 456.8 L850.9 455.9 L852.4 454.6 L853.8 452.6 L855.1 449.8 L856.1 446.5 L857.1 442.1 L858.2 435.7 L860.8 417.4 L862.9 397.5 L864.9 375.1 L866.5 352.6 L867.9 327.2 L869.4 297.7 L870.8 263.3 L874 172.8 L879.4 0.9M847.4 461 L847.9 461.9 L848.6 462.6 L849.4 463.2 L850.3 463.5 L851.3 463.5 L852.3 463.4 L854.1 462.6 L855.6 461.2 L857.1 459.2 L858.3 456.5 L859.3 453.1 L860.4 448.2 L861.5 441.8 L864.1 423 L866.3 402.6 L868.3 380.2 L869.8 357.8 L871.3 331.8 L872.7 302.4 L874.1 266.9 L877.3 174.9 L882.7 0.5M850.7 467.8 L851.1 468.7 L851.8 469.5 L852.6 470 L853.6 470.3 L854.6 470.4 L855.6 470.3 L857.4 469.4 L858.9 468.1 L860.3 466.1 L861.5 463.3 L862.5 460 L863.6 455.1 L864.8 448.2 L867.5 428.9 L869.7 408.5 L871.7 385.1 L873.2 362.1 L874.7 336.2 L876.1 306.2 L877.5 270.7 L880.6 177.8 L886 0.9M853.9 474.9 L854.4 475.8 L855 476.5 L855.9 477.1 L856.8 477.4 L857.8 477.4 L858.8 477.3 L860.6 476.5 L862.4 474.7 L863.7 472.6 L864.9 469.9 L865.9 466.5 L866.9 461.6 L868.2 454.2 L870.8 434.9 L873.1 414 L875 390.6 L876.6 367.7 L878 341.2 L879.4 311.2 L880.8 275.3 L883.9 181.3 L889.2 0.9M857.2 482.1 L857.6 483 L858.3 483.7 L859.1 484.3 L860.1 484.6 L861.1 484.7 L862 484.5 L863.8 483.7 L865.7 482 L867 479.8 L868.1 477.1 L869.1 473.7 L870.2 468.3 L871.5 460.9 L874.2 441.1 L876.5 419.7 L878.4 395.8 L880 372.4 L881.4 345.9 L882.8 315.4 L884.1 279 L887.2 184 L892.4 0.6M860.5 489.5 L860.9 490.4 L861.6 491.2 L862.4 491.7 L863.4 492 L864.4 492.1 L865.3 491.9 L867.1 491.1 L868.9 489.4 L870.3 487.2 L871.4 484.5 L872.4 481.1 L873.5 475.7 L874.8 467.8 L877.6 447.5 L879.8 426.1 L881.8 401.7 L883.3 378.3 L884.7 351.8 L886.1 320.8 L887.4 283.9 L890.4 187.9 L895.6 1M863.8 497 L864.2 497.9 L864.9 498.7 L865.7 499.3 L866.7 499.6 L867.7 499.6 L868.6 499.5 L870.4 498.6 L872.2 496.9 L873.5 494.8 L874.7 492 L875.8 488.1 L877 482.3 L878.3 474.4 L881 454.1 L883.2 432.2 L885.2 407.7 L886.7 384.3 L888.1 357.3 L889.4 325.9 L890.7 288.9 L893.7 191.4 L898.8 1M867.2 504.8 L867.6 505.7 L868.2 506.5 L869.1 507 L870 507.4 L871 507.4 L872 507.3 L873.8 506.4 L875.6 504.7 L876.9 502.5 L878 499.8 L879.1 495.9 L880.3 490 L881.6 481.6 L884.4 460.8 L886.7 438.4 L888.6 413.5 L890.1 389.6 L891.5 362.6 L892.8 331.1 L894.1 293.1 L897 194.7 L902 0.7M870.6 513 L871.1 513.9 L871.7 514.7 L872.5 515.2 L873.5 515.5 L874.5 515.6 L875.5 515.4 L877.2 514.6 L879 512.8 L880.3 510.7 L881.4 507.9 L882.5 504 L883.7 498.2 L885.1 489.3 L887.8 468.5 L890.1 445.6 L892.1 420.1 L893.6 395.7 L894.9 368.2 L896.2 336.3 L897.5 298.3 L900.2 198.3 L905.2 0.9" fill="none" stroke="#da251c" stroke-width="1.30"/>
<path d="M873.6 520 L874 520.9 L874.6 521.7 L875.5 522.3 L876.4 522.6 L877.4 522.6 L878.4 522.5 L879.3 522.1 L880.6 521.3 L882.2 519.5 L883.5 517.3 L884.5 514.5 L885.5 510.6 L886.8 504.2 L888.3 494.8 L891.2 473 L893.5 449.6 L895.5 423.2 L897 398.3 L898.4 369.8 L899.6 337.3 L900.9 298.3 L903.6 196.9 L908.3 0.9M877.2 528.9 L877.7 529.8 L878.3 530.6 L879.1 531.2 L880.1 531.5 L881.1 531.5 L882 531.4 L883 531 L884.2 530.2 L885.9 528.3 L887.1 526.2 L888.1 523.3 L889.2 519.5 L890.4 513.1 L891.9 503.7 L894.8 481.4 L897.1 457.5 L899.1 430.6 L900.5 405.6 L901.9 376.7 L903.1 343.7 L904.3 304.2 L906.9 201.2 L911.4 0.8M881.1 538.5 L881.5 539.4 L882.2 540.2 L883 540.7 L883.9 541 L884.9 541.1 L885.9 540.9 L886.8 540.6 L888.1 539.8 L889.7 537.9 L890.9 535.7 L892 532.9 L893 529 L894.3 522.1 L895.7 512.7 L898.5 490.9 L900.8 467 L902.7 439.6 L904.1 414.6 L905.4 385.7 L906.6 352.2 L907.7 312.7 L910.2 208.2 L914.5 0.8M885.1 548.6 L885.5 549.5 L886.1 550.3 L887 550.8 L887.9 551.2 L888.9 551.2 L889.9 551.1 L890.8 550.7 L892.1 549.9 L893.7 548 L894.9 545.8 L896.1 542.5 L897 538.6 L898.3 531.7 L899.7 522.3 L902.4 500.5 L904.5 476.6 L906.4 449.7 L907.7 424.7 L908.9 395.7 L910 362.2 L911 322.3 L913.3 216.8 L917.5 0.8M889.2 559.2 L889.6 560.1 L890.2 560.9 L891.1 561.5 L892 561.8 L893 561.9 L894 561.7 L894.9 561.3 L896.2 560.5 L897.8 558.6 L899 556.4 L900 553.6 L901 549.7 L902.1 543.3 L903.5 533.9 L906.1 512.1 L908.2 488.7 L910 461.7 L911.2 436.8 L912.3 408.3 L913.3 374.8 L914.3 334.8 L916.4 228.3 L920.4 0.9M893.4 570.3 L893.8 571.3 L894.4 572 L895.2 572.6 L896.2 572.9 L897.2 573 L898.2 572.8 L899.1 572.5 L900.3 571.6 L902 569.7 L903.1 567.5 L904.1 564.7 L905.1 560.8 L906.2 554.4 L907.5 545.5 L910 524.2 L912 500.8 L913.6 474.3 L914.7 449.8 L915.7 421.8 L917.5 348.9 L919.5 241.9 L923.3 0.9M897.7 582.1 L898.1 583 L898.7 583.8 L899.5 584.4 L900.4 584.7 L901.4 584.8 L902.4 584.6 L904.2 583.7 L905.9 581.9 L907.2 579.8 L908.2 577 L909.2 573.1 L910.3 567.2 L911.5 558.8 L913.8 537.9 L915.7 515 L917.2 489 L918.2 465 L919.1 437.6 L920.7 365.1 L922.5 258.1 L926.2 0.6M902.1 594.5 L902.4 595.4 L903 596.2 L903.8 596.8 L904.8 597.1 L905.8 597.2 L906.8 597 L908.5 596.1 L910.3 594.3 L911.5 592.2 L912.6 589.4 L913.5 585.5 L914.6 579.6 L915.6 571.7 L917.8 551.8 L919.4 530.3 L920.8 505.4 L921.7 482.4 L922.5 455.9 L923.9 384.4 L925.5 278.4 L929.1 1M906.5 607.5 L906.8 608.4 L907.4 609.2 L908.2 609.8 L909.1 610.2 L910.1 610.2 L911.1 610.1 L912.9 609.2 L914.4 607.8 L915.7 605.7 L916.8 603 L917.8 599.1 L918.8 593.7 L919.7 586.7 L921.6 567.8 L923.1 547.4 L924.3 523.4 L925.1 501.4 L925.8 475.9 L927.1 406.5 L932 1M910.9 621.1 L911.2 622 L911.8 622.9 L912.6 623.5 L913.5 623.8 L914.5 623.9 L915.5 623.8 L917.3 623 L918.8 621.6 L920.1 619.5 L921.2 616.7 L922.1 613.4 L922.9 608.9 L923.8 602.5 L925.5 585.6 L926.8 566.6 L927.8 544.1 L929.1 499.7 L930.2 433.2 L934.8 0.7M915.2 635.3 L915.6 636.3 L916.1 637.1 L917.4 637.9 L918.3 638.2 L919.3 638.2 L921.2 637.6 L922.8 636.4 L924.3 634.4 L925.3 632.1 L926.3 628.8 L927.1 624.8 L927.8 619.9 L929.2 605.5 L930.4 587.5 L931.3 566.5 L932.3 525.5 L933.2 462.5 L937.7 0.6M919.6 650.2 L919.9 651.1 L920.4 651.9 L921.6 652.8 L922.6 653.1 L923.6 653.1 L925.5 652.6 L927.1 651.4 L928.6 649.4 L929.7 647.2 L930.6 644.3 L931.2 641.4 L931.8 637.4 L932.9 626 L933.9 610.5 L934.7 591.5 L935.5 555 L936.2 497.5 L940.5 0.6M923.9 665.6 L924.2 666.5 L924.7 667.4 L925.9 668.3 L927.3 668.7 L928.3 668.6 L929.3 668.4 L931 667.3 L932.4 665.9 L933.7 663.7 L934.5 661.4 L935.2 659 L935.7 656 L936.6 648.1 L937.3 635.6 L938 619.1 L938.6 588.1 L939.1 537.1 L943.3 0.7M928.1 681.6 L928.7 683 L929.7 684.1 L931.1 684.7 L932 684.8 L933 684.6 L934.4 684.1 L936 682.9 L937.2 681.3 L938.3 679 L939 677.1 L939.5 674.7 L940.3 669.3 L940.8 660.8 L941.2 648.8 L941.7 623.8 L942.1 580.8 L946.1 0.8" fill="none" stroke="#da251c" stroke-width="1.25"/>
<path d="M932.3 698.2 L932.9 699.6 L933.9 700.7 L935.2 701.3 L936.7 701.4 L938.1 701 L939.4 700.2 L940.5 699.2 L941.7 697.5 L943 694.3 L943.8 690.4 L944.3 684.9 L944.6 677.4 L945 629.9 L948.9 0.9M936.5 715.3 L936.8 716.3 L937.7 717.4 L938.6 717.9 L940.1 718.3 L941.5 718.1 L942.9 717.4 L944.1 716.5 L945.1 715.4 L946.4 712.7 L947.5 708.9 L948 704.4 L948.2 697.9 L952.1 0.9M940.6 733.1 L940.9 734 L941.8 735.2 L943.1 735.9 L944.6 736.1 L946 735.8 L947.4 735.2 L948.5 734.2 L949.5 733.1 L950.8 730.4 L951.8 726.5 L952.4 722.1 L952.7 715.1 L956.2 0.6M944.6 751.4 L944.9 752.3 L945.8 753.5 L947 754.3 L948.5 754.6 L950 754.4 L951.4 753.8 L952.6 752.9 L953.8 751.3 L955.2 748.7 L956.2 744.8 L956.8 739.9 L957.1 732.9 L960.2 0.9M948.6 770.2 L949.1 771.6 L950.1 772.7 L951.4 773.4 L952.9 773.6 L954.4 773.3 L955.7 772.7 L956.9 771.8 L958.2 770.3 L959 769 L959.7 767.1 L960.7 763.3 L961.3 758.3 L961.6 751.3 L964.3 0.8M952.5 789.6 L953 791 L953.9 792.2 L955.2 792.9 L956.7 793.2 L958.2 793 L960 792.2 L961.2 791.3 L962.5 789.8 L963.3 788.5 L964.1 786.7 L965.1 782.8 L965.8 777.4 L966.1 769.9 L968.4 0.9M956.4 809.5 L956.9 811 L957.4 811.8 L958.2 812.5 L959.5 813.1 L960.5 813.3 L962 813.3 L962.9 813 L964.3 812.4 L965.5 811.4 L966.5 810.3 L968.1 807.8 L969.2 804.5 L969.9 800.6 L969.9 0.6M960.3 830 L960.7 831.4 L961.6 832.6 L962.8 833.5 L964.7 834 L966.2 833.9 L968.1 833.3 L969.7 832.1 L970.8 831.1 L970.9 830.7 L970.9 0.9M964.2 851 L964.6 852.4 L965.1 853.3 L965.8 854 L967 854.8 L968 855.2 L969.5 855.3 L970.5 855.2 L971.9 854.7 L971.9 0.8" fill="none" stroke="#da251c" stroke-width="1.20"/>
<path d="M82.9 938 L85.3 828 L86.8 790 L87.6 764 L88.6 756.6 L90 755.8 L414.9 755.7 L419 753.1 L430.8 746.4 L442.7 739.6 L454.5 732.8 L466.4 725.8 L478.2 718.7 L490 711.4 L501.9 703.8 L513.7 696 L525.6 687.7 L537.4 679.1 L549.2 670.1 L561.1 660.6 L572.9 650.6 L584.8 640.1 L596.6 629.2 L608.5 617.9 L620.3 606.3 L632.1 594.3 L644 582.2 L655.8 569.8 L667.7 557.3 L679.5 544.6 L691.3 531.9 L703.2 519 L715 505.8 L726.9 492 L738.7 477.5 L750.5 462 L762.4 445.7 L774.2 428.4 L786.1 410.4 L797.9 391.5 L809.8 372 L821.6 351.9 L833.4 331.4 L845.3 310.4 L857.1 289.1 L869 267.2 L880.8 244.6 L892.6 221 L904.5 196.4 L916.3 170.7 L928.2 144.3 L940 117.1 L943.9 108.3 L970.6 108.3" fill="none" stroke="#111" stroke-width="2.5" stroke-linejoin="round"/>
<path d="M970.7 108.3L971.3 400V938.2" fill="none" stroke="#111" stroke-width="3.1"/>
<path d="M626.8 937 L630.6 896.7 L634.4 866.1 L638.2 838 L644.6 806.2 L649.7 797.3 L663.7 778.1 L668.8 766.7 L672.6 742.5 L679 713.1 L687.9 683.8 L690.6 676.2 L700.8 654.5 L714.8 634.1 L733.9 616.3 L762 595.9 L792.6 571.7 L823.1 544.9 L846.1 522 L852.5 511.8 L856.3 493.9 L860.1 471 L863.9 453.1 L866.9 436.4 L871.2 411.6 L877.7 387.9 L885.2 370.7 L893.8 354.6 L908.9 336.3 L924 319 L932.6 308.3 L939 295.4 L945.5 276 L952 256.6 L957.3 241.5 L961.6 238.9 L963.1 252.3 L964.4 284.6 L965.3 327.6 L966 370.7 L966.6 435.3 L966.8 938" fill="none" stroke="#111" stroke-width="2.8" stroke-dasharray="5 7.1"/>
<path d="M83.2 0V939.2" stroke="#111" stroke-width="2.3" fill="none"/>
<path d="M81.6 1.2H1019.6" stroke="#111" stroke-width="2.4" fill="none"/>
<path d="M1018.4 0V939.2" stroke="#111" stroke-width="2.8" fill="none"/>
<path d="M66 938.2H1019.8" stroke="#111" stroke-width="2.1" fill="none"/>
<path d="M66 4H82M75.6 12.9H82M75.6 25.1H82M75.6 34.1H82M75.6 44.5H82M70.8 56.7H82M75.6 65.9H82M75.6 75.9H82M75.6 87H82M75.6 97.2H82M66 106.9H82M75.6 116.6H82M75.6 128.6H82M75.6 137.9H82M75.6 147.9H82M70.8 160H82M75.6 169.3H82M75.6 179.3H82M75.6 191.2H82M75.6 200.8H82M66 210.4H82M75.6 220.2H82M75.6 231.8H82M75.6 241.2H82M75.6 251.2H82M70.8 263.1H82M75.6 272.5H82M75.6 282.6H82M75.6 293.9H82M75.6 304.2H82M66 316.2H82M75.6 325.2H82M75.6 338.2H82M75.6 347.2H82M75.6 356.6H82M70.8 369.1H82M75.6 377.6H82M75.6 387.7H82M75.6 400H82M75.6 409.3H82M66 419.3H82M75.6 428.7H82M75.6 440.8H82M75.6 450.4H82M75.6 460.5H82M70.8 472.3H82M75.6 482H82M75.6 491H82M75.6 503.3H82M75.6 512.7H82M66 522.4H82M75.6 531.9H82M75.6 543.8H82M75.6 553.5H82M75.6 563.1H82M70.8 575.2H82M75.6 585.2H82M75.6 595.1H82M75.6 606.7H82M75.6 616.4H82M66 628.3H82M75.6 638H82M75.6 649.6H82M75.6 659.4H82M75.6 669.1H82M70.8 681H82M75.6 690.4H82M75.6 700.5H82M75.6 712.3H82M75.6 722.6H82M66 731.6H82M75.6 741.2H82M75.6 753.7H82M75.6 762.7H82M75.6 772.5H82M70.8 784.3H82M75.6 793.9H82M75.6 803.5H82M75.6 815.4H82M75.6 825.4H82M66 834.7H82M75.6 844.2H82M75.6 856.4H82M75.6 866.2H82M75.6 875.8H82M70.8 887.8H82M75.6 897.4H82M75.6 907H82M75.6 919.1H82M75.6 928.5H82" stroke="#111" stroke-width="2.4" fill="none"/>
<path d="M82.7 938V955M137.7 938V945.8M192.8 938V945.8M247.8 938V945.8M302.9 938V945.8M357.9 938V953M412.9 938V945.8M468 938V945.8M523 938V945.8M578.1 938V945.8M633.1 938V953M688.1 938V945.8M743.2 938V945.8M798.2 938V945.8M853.3 938V945.8M908.3 938V950M963.3 938V945.8" stroke="#111" stroke-width="2.3" fill="none"/>
<text font-family="Liberation Serif, serif" font-weight="bold" font-size="29" fill="#111" x="59.6" y="949.6" text-anchor="end">0</text>
<text font-family="Liberation Serif, serif" font-weight="bold" font-size="29" fill="#111" x="59.6" y="742.5" text-anchor="end">200</text>
<text font-family="Liberation Serif, serif" font-weight="bold" font-size="29" fill="#111" x="59.6" y="534.6" text-anchor="end">400</text>
<text font-family="Liberation Serif, serif" font-weight="bold" font-size="29" fill="#111" x="59.6" y="327.4" text-anchor="end">600</text>
<text font-family="Liberation Serif, serif" font-weight="bold" font-size="29" fill="#111" x="59.6" y="118.9" text-anchor="end">800</text>
<text font-family="Liberation Serif, serif" font-weight="bold" font-size="29" fill="#111" x="83.4" y="984.6" text-anchor="middle">0</text>
<text font-family="Liberation Serif, serif" font-weight="bold" font-size="29" fill="#111" x="357.4" y="984.6" text-anchor="middle">5</text>
<text font-family="Liberation Serif, serif" font-weight="bold" font-size="29" fill="#111" x="638.1" y="984.6" text-anchor="middle">10</text>
<text font-family="Liberation Serif, serif" font-weight="bold" font-size="29" fill="#111" x="911.3" y="984.6" text-anchor="middle">15</text>
<text font-family="Liberation Serif, serif" font-weight="bold" font-size="29" fill="#111" x="494.3" y="1015.7" textLength="104.6" lengthAdjust="spacingAndGlyphs">time [ns]</text>
<text font-family="Liberation Serif, serif" font-weight="bold" font-size="28" fill="#111" x="96.2" y="32.7">gain = 77</text>
<text font-family="Liberation Serif, serif" font-weight="bold" font-size="29" fill="#111" transform="translate(21.3 457.6) rotate(-90)">r[<tspan font-weight="normal">μ</tspan>m]</text>
<text font-family="Liberation Serif, serif" font-weight="bold" font-size="29" fill="#111" x="549.5" y="564">P<tspan font-size="11.5" dy="5.2">L</tspan><tspan dy="-5.2"> [a.u.]</tspan></text>
<text font-family="Liberation Serif, serif" font-weight="bold" font-size="29" fill="#111" x="535" y="883">v<tspan font-size="11.5" dy="5.2">i</tspan><tspan dy="-5.2"> [a.u.]</tspan></text>
</svg>
</body></html>
